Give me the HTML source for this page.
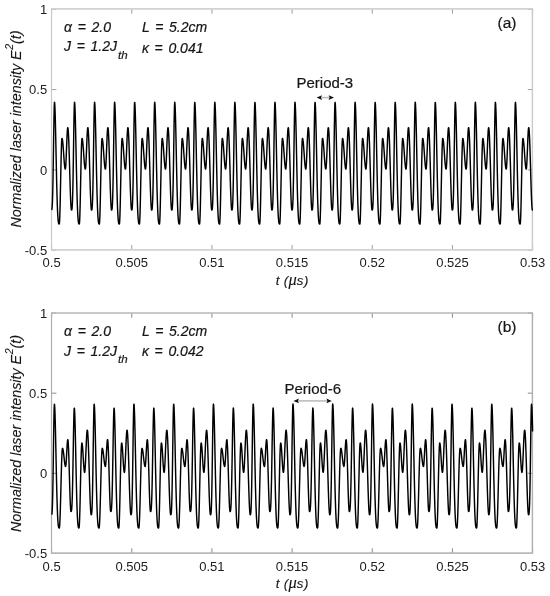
<!DOCTYPE html>
<html><head><meta charset="utf-8"><title>Normalized laser intensity</title>
<style>html,body{margin:0;padding:0;background:#fff;width:550px;height:596px;overflow:hidden}svg{display:block}</style>
</head><body>
<svg width="550" height="596" viewBox="0 0 550 596" font-family='"Liberation Sans", Arial, Helvetica, sans-serif'><style>.b{stroke:#161616;stroke-width:0.2px} .m{stroke:#1a1a1a;stroke-width:0.12px}</style><g stroke="#9c9c9c" stroke-width="1" fill="none"><line x1="51.60" y1="249.90" x2="51.60" y2="245.10"/><line x1="51.60" y1="8.90" x2="51.60" y2="13.70"/><line x1="131.77" y1="249.90" x2="131.77" y2="245.10"/><line x1="131.77" y1="8.90" x2="131.77" y2="13.70"/><line x1="211.93" y1="249.90" x2="211.93" y2="245.10"/><line x1="211.93" y1="8.90" x2="211.93" y2="13.70"/><line x1="292.10" y1="249.90" x2="292.10" y2="245.10"/><line x1="292.10" y1="8.90" x2="292.10" y2="13.70"/><line x1="372.27" y1="249.90" x2="372.27" y2="245.10"/><line x1="372.27" y1="8.90" x2="372.27" y2="13.70"/><line x1="452.43" y1="249.90" x2="452.43" y2="245.10"/><line x1="452.43" y1="8.90" x2="452.43" y2="13.70"/><line x1="532.60" y1="249.90" x2="532.60" y2="245.10"/><line x1="532.60" y1="8.90" x2="532.60" y2="13.70"/><line x1="51.60" y1="250.20" x2="56.40" y2="250.20"/><line x1="532.60" y1="250.20" x2="527.80" y2="250.20"/><line x1="51.60" y1="169.90" x2="56.40" y2="169.90"/><line x1="532.60" y1="169.90" x2="527.80" y2="169.90"/><line x1="51.60" y1="89.60" x2="56.40" y2="89.60"/><line x1="532.60" y1="89.60" x2="527.80" y2="89.60"/><line x1="51.60" y1="9.30" x2="56.40" y2="9.30"/><line x1="532.60" y1="9.30" x2="527.80" y2="9.30"/></g>
<g fill="none"><line x1="51.0" y1="8.90" x2="533.0" y2="8.90" stroke="#d2d2d2" stroke-width="1.6"/><line x1="51.0" y1="249.90" x2="533.0" y2="249.90" stroke="#d2d2d2" stroke-width="1.6"/><line x1="51.5" y1="8.90" x2="51.5" y2="249.90" stroke="#c9c9c9" stroke-width="1.2"/><line x1="532.4" y1="8.90" x2="532.4" y2="249.90" stroke="#c9c9c9" stroke-width="1.4"/></g>
<polyline points="51.60,210.02 51.73,209.87 51.85,209.49 51.98,208.76 52.10,207.59 52.23,205.87 52.35,203.51 52.48,200.45 52.60,196.63 52.73,192.00 52.85,186.57 52.98,180.36 53.10,173.42 53.23,165.87 53.35,157.83 53.48,149.48 53.60,141.04 53.73,132.75 53.85,124.90 53.98,117.77 54.10,111.67 54.23,106.89 54.35,103.70 54.48,102.33 54.60,102.58 54.73,103.76 54.85,105.79 54.98,108.59 55.10,112.11 55.23,116.25 55.35,120.94 55.48,126.08 55.60,131.58 55.73,137.36 55.85,143.33 55.98,149.41 56.10,155.52 56.23,161.58 56.35,167.54 56.48,173.33 56.60,178.90 56.73,184.21 56.85,189.22 56.98,193.90 57.10,198.23 57.23,202.20 57.35,205.79 57.48,209.01 57.60,211.86 57.73,214.35 57.85,216.49 57.98,218.30 58.10,219.81 58.23,221.03 58.35,221.99 58.48,222.72 58.60,223.25 58.73,223.62 58.85,223.84 58.98,223.96 59.10,224.01 59.23,224.02 59.35,223.74 59.48,222.62 59.60,220.65 59.73,217.87 59.85,214.36 59.98,210.16 60.10,205.38 60.23,200.11 60.35,194.45 60.48,188.52 60.60,182.44 60.73,176.34 60.85,170.34 60.98,164.56 61.10,159.12 61.23,154.13 61.35,149.69 61.48,145.89 61.60,142.81 61.73,140.52 61.85,139.05 61.98,138.44 62.10,138.49 62.23,138.77 62.35,139.27 62.48,139.96 62.60,140.86 62.73,141.93 62.85,143.18 62.98,144.57 63.10,146.09 63.23,147.72 63.35,149.44 63.48,151.22 63.60,153.03 63.73,154.85 63.85,156.66 63.98,158.43 64.10,160.13 64.22,161.74 64.35,163.24 64.47,164.60 64.60,165.82 64.72,166.86 64.85,167.71 64.97,168.37 65.10,168.82 65.22,169.06 65.35,169.06 65.47,168.60 65.60,167.64 65.72,166.21 65.85,164.34 65.97,162.08 66.10,159.48 66.22,156.61 66.35,153.53 66.47,150.33 66.60,147.08 66.72,143.86 66.85,140.75 66.97,137.83 67.10,135.17 67.22,132.84 67.35,130.89 67.47,129.37 67.60,128.31 67.72,127.75 67.85,127.70 67.97,128.12 68.10,128.99 68.22,130.32 68.35,132.07 68.47,134.24 68.60,136.81 68.72,139.73 68.85,142.98 68.97,146.52 69.10,150.31 69.22,154.31 69.35,158.48 69.47,162.76 69.60,167.11 69.72,171.48 69.85,175.82 69.97,180.08 70.10,184.22 70.22,188.18 70.35,191.92 70.47,195.41 70.60,198.60 70.72,201.45 70.85,203.93 70.97,206.02 71.10,207.70 71.22,208.93 71.35,209.72 71.47,210.04 71.60,210.04 71.72,209.94 71.85,209.64 71.97,209.04 72.10,208.02 72.22,206.48 72.35,204.34 72.47,201.51 72.60,197.94 72.72,193.57 72.85,188.39 72.97,182.43 73.10,175.72 73.22,168.35 73.35,160.44 73.47,152.17 73.60,143.73 73.72,135.37 73.85,127.35 73.97,119.96 74.10,113.50 74.22,108.26 74.35,104.54 74.47,102.56 74.60,102.39 74.72,103.29 74.85,105.05 74.97,107.62 75.10,110.91 75.22,114.86 75.35,119.38 75.47,124.39 75.60,129.79 75.72,135.49 75.85,141.41 75.97,147.46 76.10,153.57 76.22,159.65 76.35,165.65 76.47,171.50 76.60,177.15 76.72,182.54 76.85,187.65 76.97,192.44 77.10,196.88 77.22,200.97 77.35,204.68 77.47,208.02 77.60,210.99 77.72,213.59 77.85,215.84 77.97,217.76 78.10,219.36 78.22,220.67 78.35,221.71 78.47,222.51 78.60,223.10 78.72,223.52 78.85,223.78 78.97,223.93 79.10,224.00 79.22,224.02 79.35,223.92 79.47,223.07 79.60,221.37 79.72,218.85 79.85,215.56 79.97,211.57 80.10,206.97 80.22,201.84 80.35,196.29 80.47,190.44 80.60,184.40 80.72,178.29 80.85,172.24 80.97,166.38 81.10,160.82 81.22,155.67 81.35,151.04 81.47,147.03 81.60,143.72 81.72,141.16 81.85,139.43 81.97,138.54 82.10,138.45 82.22,138.66 82.35,139.09 82.47,139.72 82.60,140.55 82.72,141.57 82.85,142.76 82.97,144.11 83.10,145.59 83.22,147.19 83.35,148.88 83.47,150.64 83.60,152.45 83.72,154.27 83.85,156.09 83.97,157.87 84.10,159.60 84.22,161.24 84.35,162.77 84.47,164.18 84.60,165.45 84.72,166.54 84.85,167.46 84.97,168.18 85.10,168.70 85.22,169.01 85.35,169.10 85.47,168.80 85.60,168.00 85.72,166.72 85.85,164.99 85.97,162.84 86.10,160.35 86.22,157.55 86.35,154.53 86.47,151.36 86.60,148.12 86.72,144.88 86.85,141.73 86.97,138.74 87.10,135.99 87.22,133.55 87.35,131.47 87.47,129.80 87.60,128.60 87.72,127.88 87.85,127.66 87.97,127.93 88.10,128.66 88.22,129.84 88.35,131.46 88.47,133.51 88.60,135.95 88.72,138.76 88.85,141.90 88.97,145.36 89.10,149.07 89.22,153.01 89.35,157.13 89.47,161.38 89.60,165.71 89.72,170.08 89.85,174.44 89.97,178.73 90.10,182.91 90.22,186.93 90.35,190.75 90.47,194.32 90.60,197.61 90.72,200.57 90.85,203.18 90.97,205.40 91.10,207.21 91.22,208.59 91.35,209.52 91.47,209.99 91.60,210.05 91.72,209.99 91.85,209.77 91.97,209.27 92.10,208.40 92.22,207.04 92.35,205.10 92.47,202.50 92.60,199.17 92.72,195.05 92.85,190.14 92.97,184.42 93.10,177.94 93.22,170.77 93.35,163.02 93.47,154.84 93.60,146.44 93.72,138.02 93.85,129.86 93.97,122.23 94.10,115.44 94.22,109.79 94.35,105.55 94.47,102.99 94.60,102.30 94.72,102.91 94.85,104.40 94.97,106.71 95.10,109.78 95.22,113.53 95.35,117.88 95.47,122.74 95.60,128.02 95.72,133.63 95.85,139.49 95.97,145.51 96.10,151.61 96.22,157.71 96.35,163.74 96.47,169.65 96.60,175.36 96.72,180.84 96.85,186.05 96.97,190.94 97.10,195.50 97.22,199.70 97.35,203.53 97.47,206.99 97.60,210.08 97.72,212.80 97.85,215.16 97.97,217.18 98.10,218.88 98.22,220.28 98.35,221.40 98.47,222.28 98.60,222.94 98.72,223.40 98.85,223.71 98.97,223.90 99.10,223.99 99.22,224.02 99.35,224.01 99.47,223.44 99.60,222.00 99.72,219.74 99.85,216.69 99.97,212.92 100.10,208.50 100.22,203.53 100.35,198.11 100.47,192.34 100.60,186.34 100.72,180.24 100.85,174.16 100.97,168.23 101.10,162.56 101.22,157.27 101.35,152.46 101.47,148.24 101.60,144.70 101.72,141.89 101.85,139.89 101.97,138.73 102.10,138.43 102.22,138.57 102.35,138.93 102.47,139.49 102.60,140.26 102.72,141.22 102.85,142.36 102.97,143.66 103.10,145.10 103.22,146.67 103.35,148.33 103.47,150.07 103.60,151.87 103.72,153.69 103.85,155.51 103.97,157.30 104.10,159.05 104.22,160.72 104.35,162.30 104.47,163.75 104.60,165.06 104.72,166.21 104.85,167.19 104.97,167.97 105.10,168.56 105.22,168.93 105.35,169.09 105.47,168.95 105.60,168.31 105.72,167.18 105.85,165.59 105.97,163.57 106.10,161.18 106.22,158.47 106.35,155.52 106.47,152.39 106.60,149.16 106.72,145.91 106.85,142.72 106.97,139.68 107.10,136.84 107.22,134.29 107.35,132.09 107.47,130.29 107.60,128.93 107.72,128.05 107.85,127.68 107.97,127.80 108.10,128.38 108.22,129.42 108.35,130.90 108.47,132.81 108.60,135.12 108.72,137.82 108.85,140.86 108.97,144.22 109.10,147.86 109.22,151.73 109.35,155.79 109.47,160.01 109.60,164.32 109.72,168.68 109.85,173.05 109.97,177.36 110.10,181.59 110.22,185.66 110.35,189.55 110.47,193.21 110.60,196.59 110.72,199.66 110.85,202.39 110.97,204.73 111.10,206.68 111.22,208.19 111.35,209.27 111.47,209.89 111.60,210.05 111.72,210.02 111.85,209.86 111.97,209.47 112.10,208.72 112.22,207.53 112.35,205.79 112.47,203.41 112.60,200.31 112.72,196.46 112.85,191.80 112.97,186.34 113.10,180.09 113.22,173.13 113.35,165.55 113.47,157.50 113.60,149.14 113.72,140.70 113.85,132.43 113.97,124.60 114.10,117.51 114.22,111.46 114.35,106.73 114.47,103.61 114.60,102.31 114.72,102.61 114.85,103.83 114.97,105.88 115.10,108.72 115.22,112.26 115.35,116.43 115.47,121.14 115.60,126.29 115.72,131.81 115.85,137.60 115.97,143.57 116.10,149.65 116.22,155.76 116.35,161.82 116.47,167.78 116.60,173.56 116.72,179.12 116.85,184.42 116.97,189.41 117.10,194.08 117.22,198.39 117.35,202.35 117.47,205.93 117.60,209.13 117.72,211.97 117.85,214.44 117.97,216.57 118.10,218.37 118.22,219.86 118.35,221.07 118.47,222.02 118.60,222.75 118.72,223.27 118.85,223.63 118.97,223.85 119.10,223.97 119.22,224.01 119.35,224.02 119.47,223.71 119.60,222.55 119.72,220.55 119.85,217.75 119.97,214.20 120.10,209.98 120.22,205.18 120.35,199.89 120.47,194.22 120.60,188.28 120.72,182.20 120.85,176.10 120.97,170.11 121.10,164.34 121.22,158.91 121.35,153.94 121.47,149.53 121.60,145.75 121.72,142.71 121.85,140.44 121.97,139.01 122.10,138.43 122.22,138.50 122.35,138.79 122.47,139.29 122.60,140.00 122.72,140.90 122.85,141.98 122.97,143.23 123.10,144.63 123.22,146.15 123.35,147.79 123.47,149.51 123.60,151.29 123.72,153.10 123.85,154.93 123.97,156.73 124.10,158.50 124.22,160.20 124.35,161.80 124.47,163.30 124.60,164.66 124.72,165.86 124.85,166.89 124.97,167.74 125.10,168.39 125.22,168.83 125.35,169.06 125.47,169.05 125.60,168.57 125.72,167.59 125.85,166.15 125.97,164.26 126.10,161.98 126.22,159.37 126.35,156.49 126.47,153.41 126.60,150.20 126.72,146.95 126.85,143.73 126.97,140.63 127.10,137.72 127.22,135.07 127.35,132.75 127.47,130.82 127.60,129.31 127.72,128.28 127.85,127.74 127.97,127.71 128.10,128.14 128.22,129.04 128.35,130.38 128.47,132.15 128.60,134.34 128.72,136.92 128.85,139.85 128.97,143.11 129.10,146.67 129.22,150.47 129.35,154.48 129.47,158.65 129.60,162.93 129.72,167.28 129.85,171.65 129.97,175.99 130.10,180.25 130.22,184.38 130.35,188.33 130.47,192.07 130.60,195.54 130.72,198.72 130.85,201.56 130.97,204.03 131.10,206.10 131.22,207.75 131.35,208.97 131.47,209.74 131.60,210.04 131.72,210.04 131.85,209.93 131.97,209.63 132.10,209.01 132.22,207.97 132.35,206.41 132.47,204.24 132.60,201.39 132.72,197.78 132.85,193.38 132.97,188.17 133.10,182.17 133.22,175.43 133.35,168.04 133.47,160.12 133.60,151.83 133.72,143.39 133.85,135.04 133.97,127.04 134.10,119.68 134.22,113.26 134.35,108.08 134.47,104.42 134.60,102.52 134.72,102.41 134.85,103.34 134.97,105.14 135.10,107.73 135.22,111.06 135.35,115.03 135.47,119.58 135.60,124.60 135.72,130.01 135.85,135.72 135.97,141.65 136.10,147.70 136.22,153.81 136.35,159.89 136.47,165.89 136.60,171.73 136.72,177.37 136.85,182.75 136.97,187.85 137.10,192.62 137.22,197.05 137.35,201.12 137.47,204.82 137.60,208.15 137.72,211.10 137.85,213.69 137.97,215.93 138.10,217.83 138.22,219.42 138.35,220.71 138.47,221.75 138.60,222.54 138.72,223.12 138.85,223.53 138.97,223.79 139.10,223.94 139.22,224.00 139.35,224.02 139.47,223.90 139.60,223.02 139.72,221.28 139.85,218.73 139.97,215.41 140.10,211.40 140.22,206.77 140.35,201.63 140.47,196.06 140.60,190.20 140.72,184.15 140.85,178.05 140.97,172.01 141.10,166.15 141.22,160.60 141.35,155.48 141.47,150.87 141.60,146.89 141.72,143.60 141.85,141.08 141.97,139.37 142.10,138.52 142.22,138.45 142.35,138.67 142.47,139.11 142.60,139.75 142.72,140.59 142.85,141.61 142.97,142.81 143.10,144.16 143.22,145.65 143.35,147.26 143.47,148.95 143.60,150.71 143.72,152.52 143.85,154.34 143.97,156.16 144.10,157.94 144.22,159.66 144.35,161.30 144.47,162.83 144.60,164.24 144.72,165.49 144.85,166.58 144.97,167.49 145.10,168.21 145.22,168.71 145.35,169.01 145.47,169.09 145.60,168.78 145.72,167.96 145.85,166.66 145.97,164.91 146.10,162.75 146.22,160.24 146.35,157.44 146.47,154.41 146.60,151.23 146.72,147.99 146.85,144.75 146.97,141.61 147.10,138.63 147.22,135.89 147.35,133.46 147.47,131.39 147.60,129.75 147.72,128.56 147.85,127.86 147.97,127.67 148.10,127.95 148.22,128.70 148.35,129.90 148.47,131.54 148.60,133.60 148.72,136.05 148.85,138.87 148.97,142.04 149.10,145.50 149.22,149.23 149.35,153.17 149.47,157.30 149.60,161.55 149.72,165.89 149.85,170.25 149.97,174.61 150.10,178.90 150.22,183.07 150.35,187.09 150.47,190.90 150.60,194.46 150.72,197.74 150.85,200.69 150.97,203.28 151.10,205.48 151.22,207.27 151.35,208.63 151.47,209.54 151.60,210.00 151.72,210.05 151.85,209.99 151.97,209.75 152.10,209.25 152.22,208.35 152.35,206.97 152.47,205.01 152.60,202.38 152.72,199.02 152.85,194.87 152.97,189.92 153.10,184.18 153.22,177.67 153.35,170.47 153.47,162.70 153.60,154.51 153.72,146.10 153.85,137.69 153.97,129.54 154.10,121.94 154.22,115.19 154.35,109.59 154.47,105.41 154.60,102.92 154.72,102.31 154.85,102.95 154.97,104.47 155.10,106.82 155.22,109.92 155.35,113.70 155.47,118.07 155.60,122.94 155.72,128.24 155.85,133.86 155.97,139.73 156.10,145.76 156.22,151.85 156.35,157.95 156.47,163.98 156.60,169.88 156.72,175.59 156.85,181.06 156.97,186.25 157.10,191.13 157.22,195.67 157.35,199.86 157.47,203.68 157.60,207.12 157.72,210.19 157.85,212.90 157.97,215.25 158.10,217.26 158.22,218.94 158.35,220.33 158.47,221.44 158.60,222.31 158.72,222.96 158.85,223.42 158.97,223.72 159.10,223.90 159.22,223.99 159.35,224.02 159.47,224.00 159.60,223.40 159.72,221.93 159.85,219.63 159.97,216.55 160.10,212.75 160.22,208.32 160.35,203.32 160.47,197.88 160.60,192.10 160.72,186.10 160.85,180.00 160.97,173.92 161.10,168.00 161.22,162.34 161.35,157.06 161.47,152.28 161.60,148.09 161.72,144.57 161.85,141.80 161.97,139.83 162.10,138.70 162.22,138.43 162.35,138.58 162.47,138.95 162.60,139.52 162.72,140.30 162.85,141.27 162.97,142.41 163.10,143.72 163.22,145.16 163.35,146.73 163.47,148.40 163.60,150.14 163.72,151.94 163.85,153.76 163.97,155.58 164.10,157.38 164.22,159.12 164.35,160.79 164.47,162.36 164.60,163.80 164.72,165.11 164.85,166.25 164.97,167.22 165.10,168.00 165.22,168.57 165.35,168.94 165.47,169.09 165.60,168.93 165.72,168.27 165.85,167.13 165.97,165.51 166.10,163.48 166.22,161.08 166.35,158.36 166.47,155.40 166.60,152.26 166.72,149.03 166.85,145.78 166.97,142.60 167.10,139.56 167.22,136.73 167.35,134.20 167.47,132.01 167.60,130.22 167.72,128.89 167.85,128.03 167.97,127.67 168.10,127.81 168.22,128.41 168.35,129.47 168.47,130.97 168.60,132.89 168.72,135.22 168.85,137.93 168.97,140.99 169.10,144.36 169.22,148.01 169.35,151.89 169.47,155.96 169.60,160.18 169.72,164.49 169.85,168.86 169.97,173.22 170.10,177.53 170.22,181.75 170.35,185.82 170.47,189.70 170.60,193.35 170.72,196.72 170.85,199.78 170.97,202.49 171.10,204.82 171.22,206.74 171.35,208.24 171.47,209.30 171.60,209.90 171.72,210.05 171.85,210.02 171.97,209.85 172.10,209.45 172.22,208.69 172.35,207.47 172.47,205.70 172.60,203.30 172.72,200.18 172.85,196.29 172.97,191.60 173.10,186.10 173.22,179.83 173.35,172.84 173.47,165.24 173.60,157.17 173.72,148.80 173.85,140.36 173.97,132.10 174.10,124.30 174.22,117.24 174.35,111.24 174.47,106.58 174.60,103.52 174.72,102.30 174.85,102.65 174.97,103.89 175.10,105.98 175.22,108.85 175.35,112.42 175.47,116.61 175.60,121.33 175.72,126.51 175.85,132.03 175.97,137.83 176.10,143.82 176.22,149.90 176.35,156.01 176.47,162.07 176.60,168.01 176.72,173.79 176.85,179.34 176.97,184.62 177.10,189.60 177.22,194.26 177.35,198.56 177.47,202.50 177.60,206.06 177.72,209.25 177.85,212.07 177.97,214.53 178.10,216.65 178.22,218.44 178.35,219.92 178.47,221.11 178.60,222.06 178.72,222.77 178.85,223.29 178.97,223.64 179.10,223.86 179.22,223.97 179.35,224.01 179.47,224.02 179.60,223.68 179.72,222.49 179.85,220.45 179.97,217.62 180.10,214.04 180.22,209.80 180.35,204.98 180.47,199.67 180.60,193.98 180.72,188.04 180.85,181.96 180.97,175.86 181.10,169.87 181.22,164.11 181.35,158.70 181.47,153.75 181.60,149.36 181.72,145.62 181.85,142.60 181.97,140.37 182.10,138.97 182.22,138.43 182.35,138.51 182.47,138.80 182.60,139.31 182.72,140.03 182.85,140.94 182.97,142.03 183.10,143.28 183.22,144.69 183.35,146.22 183.47,147.86 183.60,149.58 183.72,151.36 183.85,153.18 183.97,155.00 184.10,156.81 184.22,158.57 184.35,160.26 184.47,161.87 184.60,163.35 184.72,164.71 184.85,165.91 184.97,166.93 185.10,167.77 185.22,168.41 185.35,168.85 185.47,169.07 185.60,169.04 185.72,168.54 185.85,167.54 185.97,166.08 186.10,164.18 186.22,161.88 186.35,159.26 186.47,156.37 186.60,153.28 186.72,150.07 186.85,146.82 186.97,143.61 187.10,140.51 187.22,137.61 187.35,134.97 187.47,132.67 187.60,130.75 187.72,129.26 187.85,128.25 187.97,127.73 188.10,127.72 188.22,128.17 188.35,129.08 188.47,130.44 188.60,132.23 188.72,134.44 188.85,137.03 188.97,139.98 189.10,143.25 189.22,146.81 189.35,150.62 189.47,154.64 189.60,158.81 189.72,163.10 189.85,167.46 189.97,171.83 190.10,176.16 190.22,180.42 190.35,184.54 190.47,188.49 190.60,192.21 190.72,195.68 190.85,198.84 190.97,201.66 191.10,204.12 191.22,206.17 191.35,207.81 191.47,209.01 191.60,209.76 191.72,210.05 191.85,210.04 191.97,209.93 192.10,209.61 192.22,208.97 192.35,207.92 192.47,206.34 192.60,204.14 192.72,201.26 192.85,197.62 192.97,193.18 193.10,187.95 193.22,181.92 193.35,175.15 193.47,167.73 193.60,159.79 193.72,151.50 193.85,143.06 193.97,134.71 194.10,126.73 194.22,119.40 194.35,113.03 194.47,107.91 194.60,104.31 194.72,102.48 194.85,102.43 194.97,103.40 195.10,105.23 195.22,107.85 195.35,111.21 195.47,115.21 195.60,119.77 195.72,124.81 195.85,130.23 195.97,135.95 196.10,141.89 196.22,147.95 196.35,154.05 196.47,160.14 196.60,166.12 196.72,171.96 196.85,177.59 196.97,182.96 197.10,188.04 197.22,192.81 197.35,197.22 197.47,201.28 197.60,204.96 197.72,208.27 197.85,211.21 197.97,213.78 198.10,216.01 198.22,217.90 198.35,219.48 198.47,220.76 198.60,221.78 198.72,222.57 198.85,223.14 198.97,223.54 199.10,223.80 199.22,223.94 199.35,224.01 199.47,224.02 199.60,223.89 199.72,222.96 199.85,221.19 199.97,218.61 200.10,215.26 200.22,211.23 200.35,206.58 200.47,201.41 200.60,195.84 200.72,189.96 200.85,183.91 200.97,177.80 201.10,171.77 201.22,165.92 201.35,160.39 201.47,155.28 201.60,150.70 201.72,146.74 201.85,143.48 201.97,140.99 202.10,139.32 202.22,138.51 202.35,138.46 202.47,138.69 202.60,139.13 202.72,139.78 202.85,140.63 202.97,141.66 203.10,142.86 203.22,144.22 203.35,145.71 203.47,147.32 203.60,149.02 203.72,150.79 203.85,152.59 203.97,154.42 204.10,156.23 204.22,158.01 204.35,159.73 204.47,161.37 204.60,162.89 204.72,164.29 204.85,165.54 204.97,166.62 205.10,167.52 205.22,168.23 205.35,168.73 205.47,169.02 205.60,169.09 205.72,168.75 205.85,167.92 205.97,166.60 206.10,164.83 206.22,162.66 206.35,160.13 206.47,157.32 206.60,154.28 206.72,151.11 206.85,147.86 206.97,144.63 207.10,141.48 207.22,138.51 207.35,135.78 207.47,133.37 207.60,131.32 207.72,129.69 207.85,128.52 207.97,127.84 208.10,127.67 208.22,127.97 208.35,128.74 208.47,129.96 208.60,131.61 208.72,133.69 208.85,136.16 208.97,139.00 209.10,142.17 209.22,145.64 209.35,149.38 209.47,153.33 209.60,157.46 209.72,161.72 209.85,166.06 209.97,170.43 210.10,174.78 210.22,179.07 210.35,183.24 210.47,187.25 210.60,191.05 210.72,194.60 210.85,197.86 210.97,200.80 211.10,203.37 211.22,205.56 211.35,207.33 211.47,208.68 211.60,209.57 211.72,210.01 211.85,210.05 211.97,209.98 212.10,209.74 212.22,209.22 212.35,208.31 212.47,206.90 212.60,204.92 212.72,202.26 212.85,198.87 212.97,194.69 213.10,189.71 213.22,183.93 213.35,177.39 213.47,170.17 213.60,162.38 213.72,154.18 213.85,145.76 213.97,137.35 214.10,129.23 214.22,121.66 214.35,114.95 214.47,109.39 214.60,105.28 214.72,102.86 214.85,102.31 214.97,102.99 215.10,104.55 215.22,106.93 215.35,110.06 215.47,113.86 215.60,118.25 215.72,123.15 215.85,128.46 215.97,134.10 216.10,139.97 216.22,146.00 216.35,152.10 216.47,158.20 216.60,164.22 216.72,170.11 216.85,175.81 216.97,181.27 217.10,186.45 217.22,191.32 217.35,195.85 217.47,200.02 217.60,203.82 217.72,207.25 217.85,210.31 217.97,213.00 218.10,215.33 218.22,217.33 218.35,219.00 218.47,220.38 218.60,221.48 218.72,222.34 218.85,222.98 218.97,223.43 219.10,223.73 219.22,223.91 219.35,223.99 219.47,224.02 219.60,224.00 219.72,223.35 219.85,221.85 219.97,219.52 220.10,216.41 220.22,212.59 220.35,208.13 220.47,203.11 220.60,197.66 220.72,191.87 220.85,185.86 220.97,179.76 221.10,173.68 221.22,167.76 221.35,162.12 221.47,156.86 221.60,152.10 221.72,147.93 221.85,144.45 221.97,141.70 222.10,139.77 222.22,138.67 222.35,138.43 222.47,138.59 222.60,138.96 222.72,139.55 222.85,140.33 222.97,141.31 223.10,142.46 223.22,143.77 223.35,145.22 223.47,146.80 223.60,148.47 223.72,150.21 223.85,152.01 223.97,153.83 224.10,155.65 224.22,157.45 224.35,159.19 224.47,160.85 224.60,162.42 224.72,163.86 224.85,165.16 224.97,166.30 225.10,167.26 225.22,168.03 225.35,168.59 225.47,168.95 225.60,169.09 225.72,168.92 225.85,168.24 225.97,167.07 226.10,165.44 226.22,163.39 226.35,160.97 226.47,158.25 226.60,155.27 226.72,152.13 226.85,148.90 226.97,145.65 227.10,142.47 227.22,139.44 227.35,136.63 227.47,134.10 227.60,131.93 227.72,130.16 227.85,128.84 227.97,128.01 228.10,127.67 228.22,127.83 228.35,128.45 228.47,129.52 228.60,131.04 228.72,132.98 228.85,135.33 228.97,138.05 229.10,141.12 229.22,144.50 229.35,148.16 229.47,152.05 229.60,156.13 229.72,160.35 229.85,164.67 229.97,169.03 230.10,173.39 230.22,177.71 230.35,181.92 230.47,185.98 230.60,189.86 230.72,193.49 230.85,196.85 230.97,199.89 231.10,202.59 231.22,204.90 231.35,206.81 231.47,208.30 231.60,209.33 231.72,209.92 231.85,210.05 231.97,210.01 232.10,209.84 232.22,209.42 232.35,208.65 232.47,207.41 232.60,205.62 232.72,203.19 232.85,200.03 232.97,196.11 233.10,191.39 233.22,185.86 233.35,179.56 233.47,172.55 233.60,164.92 233.72,156.84 233.85,148.46 233.97,140.03 234.10,131.78 234.22,124.00 234.35,116.98 234.47,111.02 234.60,106.42 234.72,103.44 234.85,102.29 234.97,102.68 235.10,103.96 235.22,106.08 235.35,108.98 235.47,112.58 235.60,116.79 235.72,121.53 235.85,126.72 235.97,132.26 236.10,138.07 236.22,144.06 236.35,150.14 236.47,156.25 236.60,162.31 236.72,168.25 236.85,174.01 236.97,179.55 237.10,184.83 237.22,189.80 237.35,194.44 237.47,198.72 237.60,202.65 237.72,206.20 237.85,209.37 237.97,212.18 238.10,214.62 238.22,216.73 238.35,218.50 238.47,219.97 238.60,221.16 238.72,222.09 238.85,222.80 238.97,223.31 239.10,223.65 239.22,223.86 239.35,223.97 239.47,224.02 239.60,224.02 239.72,223.65 239.85,222.42 239.97,220.36 240.10,217.49 240.22,213.89 240.35,209.62 240.47,204.77 240.60,199.45 240.72,193.75 240.85,187.80 240.97,181.71 241.10,175.62 241.22,169.63 241.35,163.89 241.47,158.50 241.60,153.57 241.72,149.20 241.85,145.48 241.97,142.50 242.10,140.30 242.22,138.93 242.35,138.43 242.47,138.51 242.60,138.82 242.72,139.34 242.85,140.06 242.97,140.98 243.10,142.07 243.22,143.34 243.35,144.74 243.47,146.28 243.60,147.92 243.72,149.65 243.85,151.43 243.97,153.25 244.10,155.07 244.22,156.88 244.35,158.64 244.47,160.33 244.60,161.93 244.72,163.41 244.85,164.76 244.97,165.95 245.10,166.97 245.22,167.80 245.35,168.43 245.47,168.86 245.60,169.07 245.72,169.03 245.85,168.51 245.97,167.49 246.10,166.01 246.22,164.09 246.35,161.78 246.47,159.15 246.60,156.25 246.72,153.15 246.85,149.94 246.97,146.69 247.10,143.48 247.22,140.39 247.35,137.50 247.47,134.88 247.60,132.58 247.72,130.68 247.85,129.21 247.97,128.22 248.10,127.72 248.22,127.72 248.35,128.20 248.47,129.13 248.60,130.50 248.72,132.31 248.85,134.53 248.97,137.14 249.10,140.10 249.22,143.39 249.35,146.96 249.47,150.78 249.60,154.80 249.72,158.98 249.85,163.28 249.97,167.63 250.10,172.00 250.22,176.33 250.35,180.58 250.47,184.70 250.60,188.64 250.72,192.36 250.85,195.81 250.97,198.96 251.10,201.77 251.22,204.21 251.35,206.25 251.47,207.87 251.60,209.05 251.72,209.78 251.85,210.05 251.97,210.04 252.10,209.92 252.22,209.59 252.35,208.94 252.47,207.86 252.60,206.26 252.72,204.04 252.85,201.12 252.97,197.45 253.10,192.99 253.22,187.72 253.35,181.66 253.47,174.86 253.60,167.42 253.72,159.46 253.85,151.16 253.97,142.72 254.10,134.38 254.22,126.42 254.35,119.13 254.47,112.80 254.60,107.73 254.72,104.20 254.85,102.45 254.97,102.45 255.10,103.46 255.22,105.32 255.35,107.97 255.47,111.35 255.60,115.38 255.72,119.96 255.85,125.02 255.97,130.46 256.10,136.19 256.23,142.13 256.35,148.19 256.48,154.30 256.60,160.38 256.73,166.36 256.85,172.19 256.98,177.81 257.10,183.17 257.23,188.24 257.35,192.99 257.48,197.39 257.60,201.43 257.73,205.10 257.85,208.40 257.98,211.32 258.10,213.88 258.23,216.09 258.35,217.97 258.48,219.53 258.60,220.81 258.73,221.82 258.85,222.59 258.98,223.16 259.10,223.56 259.23,223.81 259.35,223.95 259.48,224.01 259.60,224.02 259.73,223.87 259.85,222.91 259.98,221.11 260.10,218.49 260.23,215.12 260.35,211.05 260.48,206.38 260.60,201.20 260.73,195.61 260.85,189.72 260.98,183.67 261.10,177.56 261.23,171.53 261.35,165.69 261.48,160.18 261.60,155.09 261.73,150.53 261.85,146.60 261.98,143.37 262.10,140.91 262.23,139.27 262.35,138.49 262.48,138.46 262.60,138.70 262.73,139.15 262.85,139.81 262.98,140.66 263.10,141.70 263.23,142.91 263.35,144.28 263.48,145.78 263.60,147.39 263.73,149.09 263.85,150.86 263.98,152.67 264.10,154.49 264.23,156.30 264.35,158.08 264.48,159.80 264.60,161.43 264.73,162.95 264.85,164.34 264.98,165.59 265.10,166.66 265.23,167.56 265.35,168.25 265.48,168.75 265.60,169.03 265.73,169.09 265.85,168.73 265.98,167.87 266.10,166.53 266.23,164.75 266.35,162.56 266.48,160.02 266.60,157.20 266.73,154.16 266.85,150.98 266.98,147.73 267.10,144.50 267.23,141.36 267.35,138.40 267.48,135.68 267.60,133.28 267.73,131.24 267.85,129.63 267.98,128.48 268.10,127.83 268.23,127.67 268.35,128.00 268.48,128.78 268.60,130.02 268.73,131.69 268.85,133.78 268.98,136.26 269.10,139.12 269.23,142.30 269.35,145.79 269.48,149.53 269.60,153.50 269.73,157.63 269.85,161.89 269.98,166.23 270.10,170.60 270.23,174.95 270.35,179.24 270.48,183.40 270.60,187.40 270.73,191.19 270.85,194.73 270.98,197.98 271.10,200.91 271.23,203.47 271.35,205.64 271.48,207.40 271.60,208.72 271.73,209.60 271.85,210.01 271.98,210.05 272.10,209.97 272.23,209.73 272.35,209.19 272.48,208.26 272.60,206.84 272.73,204.82 272.85,202.14 272.98,198.71 273.10,194.51 273.23,189.49 273.35,183.68 273.48,177.11 273.60,169.87 273.73,162.06 273.85,153.84 273.98,145.42 274.10,137.02 274.23,128.91 274.35,121.37 274.48,114.70 274.60,109.20 274.73,105.15 274.85,102.80 274.98,102.32 275.10,103.04 275.23,104.63 275.35,107.04 275.48,110.20 275.60,114.03 275.73,118.44 275.85,123.35 275.98,128.68 276.10,134.33 276.23,140.21 276.35,146.24 276.48,152.34 276.60,158.44 276.73,164.46 276.85,170.34 276.98,176.03 277.10,181.48 277.23,186.65 277.35,191.51 277.48,196.02 277.60,200.18 277.73,203.97 277.85,207.38 277.98,210.42 278.10,213.10 278.23,215.42 278.35,217.40 278.48,219.06 278.60,220.43 278.73,221.52 278.85,222.37 278.98,223.00 279.10,223.45 279.23,223.74 279.35,223.91 279.48,223.99 279.60,224.02 279.73,223.99 279.85,223.31 279.98,221.77 280.10,219.41 280.23,216.27 280.35,212.42 280.48,207.93 280.60,202.90 280.73,197.43 280.85,191.63 280.98,185.62 281.10,179.51 281.23,173.44 281.35,167.53 281.48,161.90 281.60,156.66 281.73,151.92 281.85,147.78 281.98,144.32 282.10,141.61 282.23,139.71 282.35,138.65 282.48,138.43 282.60,138.60 282.73,138.98 282.85,139.58 282.98,140.37 283.10,141.35 283.23,142.51 283.35,143.83 283.48,145.28 283.60,146.86 283.73,148.54 283.85,150.29 283.98,152.08 284.10,153.91 284.23,155.73 284.35,157.52 284.48,159.26 284.60,160.92 284.73,162.48 284.85,163.91 284.98,165.21 285.10,166.34 285.23,167.29 285.35,168.05 285.48,168.61 285.60,168.96 285.73,169.10 285.85,168.90 285.98,168.20 286.10,167.01 286.23,165.37 286.35,163.30 286.48,160.87 286.60,158.13 286.73,155.15 286.85,152.01 286.98,148.77 287.10,145.52 287.23,142.35 287.35,139.32 287.48,136.52 287.60,134.01 287.73,131.85 287.85,130.10 287.98,128.80 288.10,127.98 288.23,127.67 288.35,127.84 288.48,128.48 288.60,129.57 288.73,131.11 288.85,133.07 288.98,135.43 289.10,138.17 289.23,141.25 289.35,144.64 289.48,148.31 289.60,152.21 289.73,156.29 289.85,160.52 289.98,164.84 290.10,169.21 290.23,173.57 290.35,177.88 290.48,182.08 290.60,186.14 290.73,190.01 290.85,193.63 290.98,196.98 291.10,200.01 291.23,202.69 291.35,204.99 291.48,206.88 291.60,208.35 291.73,209.37 291.85,209.93 291.98,210.05 292.10,210.01 292.23,209.83 292.35,209.40 292.48,208.61 292.60,207.35 292.73,205.54 292.85,203.07 292.98,199.89 293.10,195.94 293.23,191.19 293.35,185.63 293.48,179.29 293.60,172.25 293.73,164.61 293.85,156.51 293.98,148.13 294.10,139.69 294.23,131.46 294.35,123.70 294.48,116.72 294.60,110.81 294.73,106.27 294.85,103.35 294.98,102.29 295.10,102.71 295.23,104.03 295.35,106.19 295.48,109.11 295.60,112.73 295.73,116.97 295.85,121.73 295.98,126.94 296.10,132.49 296.23,138.31 296.35,144.30 296.48,150.39 296.60,156.49 296.73,162.55 296.85,168.48 296.98,174.24 297.10,179.77 297.23,185.03 297.35,189.99 297.48,194.61 297.60,198.89 297.73,202.80 297.85,206.33 297.98,209.49 298.10,212.28 298.23,214.72 298.35,216.80 298.48,218.57 298.60,220.02 298.73,221.20 298.85,222.12 298.98,222.82 299.10,223.32 299.23,223.66 299.35,223.87 299.48,223.98 299.60,224.02 299.73,224.02 299.85,223.62 299.98,222.36 300.10,220.26 300.23,217.36 300.35,213.73 300.48,209.43 300.60,204.57 300.73,199.22 300.85,193.51 300.98,187.56 301.10,181.47 301.23,175.37 301.35,169.40 301.48,163.67 301.60,158.29 301.73,153.38 301.85,149.04 301.98,145.35 302.10,142.39 302.23,140.23 302.35,138.89 302.48,138.42 302.60,138.52 302.73,138.84 302.85,139.36 302.98,140.09 303.10,141.02 303.23,142.12 303.35,143.39 303.48,144.80 303.60,146.35 303.73,147.99 303.85,149.72 303.98,151.50 304.10,153.32 304.23,155.14 304.35,156.95 304.48,158.71 304.60,160.40 304.73,161.99 304.85,163.47 304.98,164.81 305.10,165.99 305.23,167.01 305.35,167.83 305.48,168.45 305.60,168.87 305.73,169.08 305.85,169.02 305.98,168.48 306.10,167.44 306.23,165.94 306.35,164.01 306.48,161.69 306.60,159.04 306.73,156.13 306.85,153.03 306.98,149.81 307.10,146.56 307.23,143.35 307.35,140.27 307.48,137.39 307.60,134.78 307.73,132.50 307.85,130.61 307.98,129.17 308.10,128.19 308.23,127.71 308.35,127.73 308.48,128.23 308.60,129.17 308.73,130.57 308.85,132.39 308.98,134.63 309.10,137.25 309.23,140.23 309.35,143.53 309.48,147.11 309.60,150.94 309.73,154.97 309.85,159.15 309.98,163.45 310.10,167.81 310.23,172.18 310.35,176.51 310.48,180.75 310.60,184.86 310.73,188.79 310.85,192.50 310.98,195.94 311.10,199.08 311.23,201.87 311.35,204.30 311.48,206.32 311.60,207.92 311.73,209.09 311.85,209.80 311.98,210.05 312.10,210.03 312.23,209.91 312.35,209.57 312.48,208.91 312.60,207.81 312.73,206.18 312.85,203.94 312.98,200.99 313.10,197.29 313.23,192.79 313.35,187.49 313.48,181.40 313.60,174.58 313.73,167.11 313.85,159.14 313.98,150.82 314.10,142.38 314.23,134.05 314.35,126.11 314.48,118.85 314.60,112.57 314.73,107.56 314.85,104.10 314.98,102.42 315.10,102.48 315.23,103.51 315.35,105.41 315.48,108.10 315.60,111.50 315.73,115.55 315.85,120.16 315.98,125.23 316.10,130.68 316.23,136.42 316.35,142.37 316.48,148.43 316.60,154.54 316.73,160.62 316.85,166.60 316.98,172.42 317.10,178.03 317.23,183.38 317.35,188.44 317.48,193.17 317.60,197.56 317.73,201.59 317.85,205.24 317.98,208.52 318.10,211.43 318.23,213.98 318.35,216.17 318.48,218.04 318.60,219.59 318.73,220.85 318.85,221.85 318.98,222.62 319.10,223.18 319.23,223.57 319.35,223.81 319.48,223.95 319.60,224.01 319.73,224.02 319.85,223.84 319.98,222.85 320.10,221.02 320.23,218.37 320.35,214.97 320.48,210.88 320.60,206.18 320.73,200.98 320.85,195.37 320.98,189.48 321.10,183.42 321.23,177.32 321.35,171.29 321.48,165.47 321.60,159.96 321.73,154.89 321.85,150.36 321.98,146.45 322.10,143.26 322.23,140.83 322.35,139.23 322.48,138.48 322.60,138.47 322.73,138.71 322.85,139.17 322.98,139.84 323.10,140.70 323.23,141.75 323.35,142.97 323.48,144.34 323.60,145.84 323.73,147.45 323.85,149.16 323.98,150.93 324.10,152.74 324.23,154.56 324.35,156.38 324.48,158.15 324.60,159.86 324.73,161.49 324.85,163.01 324.98,164.40 325.10,165.63 325.23,166.70 325.35,167.59 325.48,168.28 325.60,168.76 325.73,169.03 325.85,169.08 325.98,168.71 326.10,167.83 326.23,166.47 326.35,164.67 326.48,162.47 326.60,159.92 326.73,157.08 326.85,154.03 326.98,150.85 327.10,147.60 327.23,144.37 327.35,141.24 327.48,138.29 327.60,135.58 327.73,133.19 327.85,131.17 327.98,129.58 328.10,128.45 328.23,127.81 328.35,127.68 328.48,128.02 328.60,128.82 328.73,130.07 328.85,131.76 328.98,133.87 329.10,136.37 329.23,139.24 329.35,142.44 329.48,145.93 329.60,149.69 329.73,153.66 329.85,157.80 329.98,162.07 330.10,166.41 330.23,170.78 330.35,175.13 330.48,179.41 330.60,183.56 330.73,187.56 330.85,191.34 330.98,194.87 331.10,198.11 331.23,201.02 331.35,203.56 331.48,205.72 331.60,207.46 331.73,208.76 331.85,209.62 331.98,210.02 332.10,210.05 332.23,209.97 332.35,209.71 332.48,209.16 332.60,208.21 332.73,206.77 332.85,204.73 332.98,202.01 333.10,198.56 333.23,194.32 333.35,189.28 333.48,183.43 333.60,176.84 333.73,169.56 333.85,161.74 333.98,153.51 334.10,145.08 334.23,136.69 334.35,128.60 334.48,121.08 334.60,114.45 334.73,109.01 334.85,105.02 334.98,102.75 335.10,102.34 335.23,103.09 335.35,104.71 335.48,107.15 335.60,110.34 335.73,114.19 335.85,118.63 335.98,123.56 336.10,128.90 336.23,134.56 336.35,140.45 336.48,146.48 336.60,152.59 336.73,158.68 336.85,164.70 336.98,170.58 337.10,176.26 337.23,181.70 337.35,186.85 337.48,191.69 337.60,196.19 337.73,200.34 337.85,204.11 337.98,207.51 338.10,210.54 338.23,213.20 338.35,215.51 338.48,217.47 338.60,219.12 338.73,220.48 338.85,221.56 338.98,222.40 339.10,223.02 339.23,223.46 339.35,223.75 339.48,223.92 339.60,224.00 339.73,224.02 339.85,223.98 339.98,223.26 340.10,221.69 340.23,219.30 340.35,216.13 340.48,212.25 340.60,207.74 340.73,202.69 340.85,197.21 340.98,191.39 341.10,185.37 341.23,179.27 341.35,173.20 341.48,167.30 341.60,161.68 341.73,156.46 341.85,151.75 341.98,147.63 342.10,144.20 342.23,141.52 342.35,139.65 342.48,138.62 342.60,138.43 342.73,138.61 342.85,139.00 342.98,139.60 343.10,140.40 343.23,141.39 343.35,142.56 343.48,143.88 343.60,145.35 343.73,146.93 343.85,148.61 343.98,150.36 344.10,152.16 344.23,153.98 344.35,155.80 344.48,157.59 344.60,159.32 344.73,160.98 344.85,162.54 344.98,163.97 345.10,165.25 345.23,166.38 345.35,167.32 345.48,168.08 345.60,168.63 345.73,168.97 345.85,169.10 345.98,168.88 346.10,168.16 346.23,166.96 346.35,165.29 346.48,163.21 346.60,160.77 346.73,158.02 346.85,155.03 346.98,151.88 347.10,148.64 347.23,145.40 347.35,142.23 347.48,139.21 347.60,136.41 347.73,133.92 347.85,131.77 347.98,130.04 348.10,128.76 348.23,127.96 348.35,127.66 348.48,127.86 348.60,128.51 348.73,129.62 348.85,131.18 348.98,133.15 349.10,135.53 349.23,138.28 349.35,141.38 349.48,144.78 349.60,148.46 349.73,152.37 349.85,156.46 349.98,160.69 350.10,165.01 350.23,169.38 350.35,173.74 350.48,178.05 350.60,182.25 350.73,186.30 350.85,190.16 350.98,193.77 351.10,197.11 351.23,200.12 351.35,202.79 351.48,205.07 351.60,206.95 351.73,208.39 351.85,209.40 351.98,209.94 352.10,210.05 352.23,210.01 352.35,209.82 352.48,209.37 352.60,208.57 352.73,207.29 352.85,205.45 352.98,202.96 353.10,199.75 353.23,195.77 353.35,190.98 353.48,185.39 353.60,179.03 353.73,171.96 353.85,164.29 353.98,156.17 354.10,147.79 354.23,139.36 354.35,131.14 354.48,123.41 354.60,116.46 354.73,110.60 354.85,106.12 354.98,103.28 355.10,102.29 355.23,102.75 355.35,104.10 355.48,106.29 355.60,109.24 355.73,112.89 355.85,117.15 355.98,121.93 356.10,127.15 356.23,132.72 356.35,138.54 356.48,144.54 356.60,150.63 356.73,156.74 356.85,162.79 356.98,168.71 357.10,174.46 357.23,179.99 357.35,185.24 357.48,190.18 357.60,194.79 357.73,199.05 357.85,202.94 357.98,206.46 358.10,209.61 358.23,212.39 358.35,214.81 358.48,216.88 358.60,218.63 358.73,220.08 358.85,221.24 358.98,222.15 359.10,222.84 359.23,223.34 359.35,223.67 359.48,223.87 359.60,223.98 359.73,224.02 359.85,224.02 359.98,223.59 360.10,222.29 360.23,220.15 360.35,217.23 360.48,213.57 360.60,209.25 360.73,204.36 360.85,199.00 360.98,193.28 361.10,187.31 361.23,181.22 361.35,175.13 361.48,169.16 361.60,163.44 361.73,158.08 361.85,153.19 361.98,148.88 362.10,145.22 362.23,142.29 362.35,140.16 362.48,138.86 362.60,138.42 362.73,138.53 362.85,138.85 362.98,139.39 363.10,140.13 363.23,141.06 363.35,142.17 363.48,143.44 363.60,144.86 363.73,146.41 363.85,148.06 363.98,149.79 364.10,151.58 364.23,153.39 364.35,155.22 364.48,157.02 364.60,158.78 364.73,160.46 364.85,162.05 364.98,163.52 365.10,164.86 365.23,166.04 365.35,167.04 365.48,167.86 365.60,168.48 365.73,168.88 365.85,169.08 365.98,169.01 366.10,168.45 366.23,167.39 366.35,165.87 366.48,163.92 366.60,161.59 366.73,158.93 366.85,156.01 366.98,152.90 367.10,149.68 367.23,146.43 367.35,143.23 367.48,140.15 367.60,137.28 367.73,134.68 367.85,132.42 367.98,130.55 368.10,129.12 368.23,128.16 368.35,127.70 368.48,127.75 368.60,128.25 368.73,129.22 368.85,130.63 368.98,132.47 369.10,134.73 369.23,137.36 369.35,140.35 369.48,143.66 369.60,147.26 369.73,151.10 369.85,155.13 369.98,159.32 370.10,163.62 370.23,167.98 370.35,172.35 370.48,176.68 370.60,180.92 370.73,185.02 370.85,188.95 370.98,192.64 371.10,196.07 371.23,199.19 371.35,201.98 371.48,204.38 371.60,206.39 371.73,207.98 371.85,209.13 371.98,209.82 372.10,210.05 372.23,210.03 372.35,209.90 372.48,209.55 372.60,208.87 372.73,207.76 372.85,206.11 372.98,203.83 373.10,200.86 373.23,197.13 373.35,192.60 373.48,187.26 373.60,181.14 373.73,174.29 373.85,166.80 373.98,158.81 374.10,150.49 374.23,142.04 374.35,133.73 374.48,125.81 374.60,118.58 374.73,112.34 374.85,107.39 374.98,103.99 375.10,102.39 375.23,102.50 375.35,103.57 375.48,105.50 375.60,108.22 375.73,111.65 375.85,115.73 375.98,120.35 376.10,125.44 376.23,130.90 376.35,136.66 376.48,142.61 376.60,148.68 376.73,154.79 376.85,160.86 376.98,166.83 377.10,172.65 377.23,178.25 377.35,183.59 377.48,188.63 377.60,193.35 377.73,197.73 377.85,201.74 377.98,205.38 378.10,208.64 378.23,211.54 378.35,214.07 378.48,216.25 378.60,218.10 378.73,219.64 378.85,220.90 378.98,221.89 379.10,222.65 379.23,223.20 379.35,223.58 379.48,223.82 379.60,223.95 379.73,224.01 379.85,224.02 379.98,223.82 380.10,222.80 380.23,220.93 380.35,218.25 380.48,214.81 380.60,210.70 380.73,205.98 380.85,200.76 380.98,195.14 381.10,189.24 381.23,183.18 381.35,177.07 381.48,171.05 381.60,165.24 381.73,159.75 381.85,154.70 381.98,150.19 382.10,146.31 382.23,143.14 382.35,140.75 382.48,139.18 382.60,138.47 382.73,138.47 382.85,138.73 382.98,139.20 383.10,139.87 383.23,140.74 383.35,141.79 383.48,143.02 383.60,144.39 383.73,145.90 383.85,147.52 383.98,149.23 384.10,151.00 384.23,152.81 384.35,154.64 384.48,156.45 384.60,158.22 384.73,159.93 384.85,161.55 384.98,163.07 385.10,164.45 385.23,165.68 385.35,166.74 385.48,167.62 385.60,168.30 385.73,168.78 385.85,169.04 385.98,169.08 386.10,168.68 386.23,167.78 386.35,166.41 386.48,164.59 386.60,162.37 386.73,159.81 386.85,156.96 386.98,153.91 387.10,150.72 387.23,147.47 387.35,144.24 387.48,141.12 387.60,138.17 387.73,135.48 387.85,133.10 387.98,131.10 388.10,129.52 388.23,128.41 388.35,127.79 388.48,127.68 388.60,128.04 388.73,128.86 388.85,130.13 388.98,131.84 389.10,133.96 389.23,136.48 389.35,139.36 389.48,142.57 389.60,146.08 389.73,149.84 389.85,153.82 389.98,157.97 390.10,162.24 390.23,166.58 390.35,170.95 390.48,175.30 390.60,179.57 390.73,183.73 390.85,187.71 390.98,191.49 391.10,195.01 391.23,198.23 391.35,201.13 391.48,203.66 391.60,205.80 391.73,207.52 391.85,208.81 391.98,209.65 392.10,210.03 392.23,210.04 392.35,209.96 392.48,209.69 392.60,209.13 392.73,208.17 392.85,206.70 392.98,204.63 393.10,201.89 393.23,198.41 393.35,194.14 393.48,189.06 393.60,183.18 393.73,176.56 393.85,169.26 393.98,161.41 394.10,153.18 394.23,144.75 394.35,136.36 394.48,128.28 394.60,120.80 394.73,114.21 394.85,108.82 394.98,104.89 395.10,102.70 395.23,102.35 395.35,103.14 395.48,104.80 395.60,107.27 395.73,110.48 395.85,114.36 395.98,118.82 396.10,123.77 396.23,129.12 396.35,134.79 396.48,140.69 396.60,146.73 396.73,152.83 396.85,158.92 396.98,164.94 397.10,170.81 397.23,176.48 397.35,181.91 397.48,187.05 397.60,191.88 397.73,196.37 397.85,200.50 397.98,204.25 398.10,207.64 398.23,210.65 398.35,213.30 398.48,215.59 398.60,217.55 398.73,219.18 398.85,220.53 398.98,221.60 399.10,222.43 399.23,223.04 399.35,223.48 399.48,223.76 399.60,223.92 399.73,224.00 399.85,224.02 399.98,223.97 400.10,223.22 400.23,221.61 400.35,219.19 400.48,215.99 400.60,212.09 400.73,207.55 400.85,202.48 400.98,196.98 401.10,191.15 401.23,185.13 401.35,179.02 401.48,172.96 401.60,167.07 401.73,161.47 401.85,156.26 401.98,151.57 402.10,147.48 402.23,144.08 402.35,141.43 402.48,139.59 402.60,138.60 402.73,138.44 402.85,138.62 402.98,139.02 403.10,139.63 403.23,140.44 403.35,141.44 403.48,142.61 403.60,143.94 403.73,145.41 403.85,146.99 403.98,148.67 404.10,150.43 404.23,152.23 404.35,154.05 404.48,155.87 404.60,157.66 404.73,159.39 404.85,161.05 404.98,162.60 405.10,164.02 405.23,165.30 405.35,166.42 405.48,167.36 405.60,168.10 405.73,168.65 405.85,168.98 405.98,169.10 406.10,168.86 406.23,168.12 406.35,166.90 406.48,165.22 406.60,163.12 406.73,160.66 406.85,157.90 406.98,154.91 407.10,151.75 407.23,148.51 407.35,145.27 407.48,142.10 407.60,139.09 407.73,136.31 407.85,133.82 407.98,131.70 408.10,129.98 408.23,128.72 408.35,127.94 408.48,127.66 408.60,127.88 408.73,128.55 408.85,129.68 408.98,131.25 409.10,133.24 409.23,135.63 409.35,138.40 409.48,141.51 409.60,144.93 409.73,148.61 409.85,152.53 409.98,156.63 410.10,160.86 410.23,165.19 410.35,169.56 410.48,173.91 410.60,178.22 410.73,182.41 410.85,186.46 410.98,190.31 411.10,193.91 411.23,197.23 411.35,200.24 411.48,202.89 411.60,205.15 411.73,207.01 411.85,208.44 411.98,209.43 412.10,209.96 412.23,210.05 412.35,210.00 412.48,209.81 412.60,209.35 412.73,208.53 412.85,207.23 412.98,205.36 413.10,202.85 413.23,199.61 413.35,195.59 413.48,190.77 413.60,185.15 413.73,178.76 413.85,171.66 413.98,163.98 414.10,155.84 414.23,147.45 414.35,139.02 414.48,130.82 414.60,123.11 414.73,116.20 414.85,110.40 414.98,105.97 415.10,103.20 415.23,102.29 415.35,102.79 415.48,104.17 415.60,106.39 415.73,109.38 415.85,113.05 415.98,117.33 416.10,122.13 416.23,127.37 416.35,132.95 416.48,138.78 416.60,144.78 416.73,150.88 416.85,156.98 416.98,163.03 417.10,168.95 417.23,174.69 417.35,180.20 417.48,185.44 417.60,190.37 417.73,194.97 417.85,199.21 417.98,203.09 418.10,206.60 418.23,209.73 418.35,212.49 418.48,214.90 418.60,216.96 418.73,218.69 418.85,220.13 418.98,221.28 419.10,222.19 419.23,222.87 419.35,223.36 419.48,223.68 419.60,223.88 419.73,223.98 419.85,224.02 419.98,224.02 420.10,223.55 420.23,222.22 420.35,220.05 420.48,217.10 420.60,213.41 420.73,209.07 420.85,204.16 420.98,198.78 421.10,193.05 421.23,187.07 421.35,180.98 421.48,174.89 421.60,168.93 421.73,163.22 421.85,157.88 421.98,153.01 422.10,148.72 422.23,145.09 422.35,142.19 422.48,140.09 422.60,138.82 422.73,138.42 422.85,138.54 422.98,138.87 423.10,139.42 423.23,140.16 423.35,141.10 423.48,142.22 423.60,143.50 423.73,144.92 423.85,146.47 423.98,148.13 424.10,149.86 424.23,151.65 424.35,153.47 424.48,155.29 424.60,157.09 424.73,158.84 424.85,160.53 424.98,162.11 425.10,163.58 425.23,164.91 425.35,166.08 425.48,167.08 425.60,167.89 425.73,168.50 425.85,168.90 425.98,169.08 426.10,168.99 426.23,168.41 426.35,167.34 426.48,165.80 426.60,163.83 426.73,161.48 426.85,158.81 426.98,155.89 427.10,152.77 427.23,149.55 427.35,146.30 427.48,143.10 427.60,140.03 427.73,137.17 427.85,134.58 427.98,132.33 428.10,130.48 428.23,129.07 428.35,128.13 428.48,127.70 428.60,127.76 428.73,128.28 428.85,129.27 428.98,130.70 429.10,132.56 429.23,134.82 429.35,137.48 429.48,140.48 429.60,143.80 429.73,147.41 429.85,151.25 429.98,155.30 430.10,159.49 430.23,163.80 430.35,168.16 430.48,172.52 430.60,176.85 430.73,181.09 430.85,185.18 430.98,189.10 431.10,192.79 431.23,196.20 431.35,199.31 431.48,202.08 431.60,204.47 431.73,206.46 431.85,208.03 431.98,209.16 432.10,209.84 432.23,210.05 432.35,210.03 432.48,209.89 432.60,209.53 432.73,208.84 432.85,207.70 432.98,206.03 433.10,203.73 433.23,200.73 433.35,196.96 433.48,192.40 433.60,187.03 433.73,180.88 433.85,174.00 433.98,166.49 434.10,158.48 434.23,150.15 434.35,141.71 434.48,133.40 434.60,125.50 434.73,118.31 434.85,112.12 434.98,107.22 435.10,103.89 435.23,102.37 435.35,102.53 435.48,103.64 435.60,105.60 435.73,108.34 435.85,111.80 435.98,115.90 436.10,120.55 436.23,125.65 436.35,131.13 436.48,136.89 436.60,142.85 436.73,148.92 436.85,155.03 436.98,161.10 437.10,167.07 437.23,172.87 437.35,178.46 437.48,183.80 437.60,188.83 437.73,193.54 437.85,197.90 437.98,201.89 438.10,205.52 438.23,208.77 438.35,211.65 438.48,214.16 438.60,216.33 438.73,218.17 438.85,219.70 438.98,220.94 439.10,221.92 439.23,222.67 439.35,223.22 439.48,223.59 439.60,223.83 439.73,223.96 439.85,224.01 439.98,224.02 440.10,223.80 440.23,222.74 440.35,220.83 440.48,218.12 440.60,214.66 440.73,210.52 440.85,205.78 440.98,200.54 441.10,194.91 441.23,189.00 441.35,182.93 441.48,176.83 441.60,170.82 441.73,165.01 441.85,159.54 441.98,154.51 442.10,150.02 442.23,146.17 442.35,143.03 442.48,140.67 442.60,139.14 442.73,138.46 442.85,138.48 442.98,138.74 443.10,139.22 443.23,139.90 443.35,140.78 443.48,141.84 443.60,143.07 443.73,144.45 443.85,145.96 443.98,147.59 444.10,149.30 444.23,151.07 444.35,152.88 444.48,154.71 444.60,156.52 444.73,158.29 444.85,160.00 444.98,161.62 445.10,163.13 445.23,164.50 445.35,165.72 445.48,166.78 445.60,167.65 445.73,168.32 445.85,168.79 445.98,169.05 446.10,169.07 446.23,168.65 446.35,167.74 446.48,166.34 446.60,164.51 446.73,162.27 446.85,159.70 446.98,156.85 447.10,153.78 447.23,150.59 447.35,147.34 447.48,144.11 447.60,141.00 447.73,138.06 447.85,135.38 447.98,133.01 448.10,131.03 448.23,129.47 448.35,128.38 448.48,127.78 448.60,127.69 448.73,128.07 448.85,128.90 448.98,130.19 449.10,131.92 449.23,134.06 449.35,136.59 449.48,139.48 449.60,142.71 449.73,146.23 449.85,150.00 449.98,153.98 450.10,158.14 450.23,162.41 450.35,166.76 450.48,171.13 450.60,175.47 450.73,179.74 450.85,183.89 450.98,187.87 451.10,191.63 451.23,195.14 451.35,198.35 451.48,201.23 451.60,203.75 451.73,205.87 451.85,207.58 451.98,208.85 452.10,209.67 452.23,210.03 452.35,210.04 452.48,209.96 452.60,209.68 452.73,209.10 452.85,208.12 452.98,206.63 453.10,204.54 453.23,201.77 453.35,198.25 453.48,193.95 453.60,188.84 453.73,182.93 453.85,176.28 453.98,168.96 454.10,161.09 454.23,152.84 454.35,144.41 454.48,136.03 454.60,127.97 454.73,120.52 454.85,113.97 454.98,108.63 455.10,104.77 455.23,102.65 455.35,102.36 455.48,103.19 455.60,104.88 455.73,107.38 455.85,110.62 455.98,114.53 456.10,119.00 456.23,123.97 456.35,129.34 456.48,135.02 456.60,140.93 456.73,146.97 456.85,153.08 456.98,159.17 457.10,165.18 457.23,171.04 457.35,176.70 457.48,182.12 457.60,187.25 457.73,192.07 457.85,196.54 457.98,200.65 458.10,204.40 458.23,207.77 458.35,210.76 458.48,213.40 458.60,215.68 458.73,217.62 458.85,219.24 458.98,220.57 459.10,221.64 459.23,222.46 459.35,223.06 459.48,223.49 459.60,223.77 459.73,223.93 459.85,224.00 459.98,224.02 460.10,223.95 460.23,223.17 460.35,221.53 460.48,219.08 460.60,215.85 460.73,211.92 460.85,207.36 460.98,202.27 461.10,196.75 461.23,190.92 461.35,184.88 461.48,178.78 461.60,172.72 461.73,166.84 461.85,161.25 461.98,156.07 462.10,151.39 462.23,147.33 462.35,143.95 462.48,141.34 462.60,139.53 462.73,138.58 462.85,138.44 462.98,138.63 463.10,139.04 463.23,139.66 463.35,140.48 463.48,141.48 463.60,142.66 463.73,143.99 463.85,145.47 463.98,147.06 464.10,148.74 464.23,150.50 464.35,152.30 464.48,154.12 464.60,155.94 464.73,157.73 464.85,159.46 464.98,161.11 465.10,162.66 465.23,164.08 465.35,165.35 465.48,166.46 465.60,167.39 465.73,168.13 465.85,168.66 465.98,168.99 466.10,169.10 466.23,168.84 466.35,168.08 466.48,166.84 466.60,165.14 466.73,163.03 466.85,160.56 466.98,157.79 467.10,154.78 467.23,151.62 467.35,148.38 467.48,145.14 467.60,141.98 467.73,138.97 467.85,136.20 467.98,133.73 468.10,131.62 468.23,129.92 468.35,128.68 468.48,127.92 468.60,127.66 468.73,127.89 468.85,128.59 468.98,129.73 469.10,131.32 469.23,133.33 469.35,135.74 469.48,138.52 469.60,141.64 469.73,145.07 469.85,148.77 469.98,152.69 470.10,156.79 470.23,161.03 470.35,165.36 470.48,169.73 470.60,174.09 470.73,178.39 470.85,182.58 470.98,186.62 471.10,190.45 471.23,194.05 471.35,197.36 471.48,200.35 471.60,202.99 471.73,205.24 471.85,207.08 471.98,208.49 472.10,209.46 472.23,209.97 472.35,210.05 472.48,210.00 472.60,209.79 472.73,209.33 472.85,208.48 472.98,207.17 473.10,205.28 473.23,202.73 473.35,199.46 473.48,195.41 473.60,190.56 473.73,184.91 473.85,178.48 473.98,171.37 474.10,163.66 474.23,155.51 474.35,147.11 474.48,138.69 474.60,130.50 474.73,122.82 474.85,115.95 474.98,110.19 475.10,105.83 475.23,103.13 475.35,102.29 475.48,102.82 475.60,104.25 475.73,106.50 475.85,109.51 475.98,113.21 476.10,117.51 476.23,122.33 476.35,127.59 476.48,133.18 476.60,139.02 476.73,145.03 476.85,151.12 476.98,157.22 477.10,163.27 477.23,169.18 477.35,174.91 477.48,180.42 477.60,185.64 477.73,190.56 477.85,195.15 477.98,199.38 478.10,203.24 478.23,206.73 478.35,209.84 478.48,212.59 478.60,214.98 478.73,217.03 478.85,218.76 478.98,220.18 479.10,221.32 479.23,222.22 479.35,222.89 479.48,223.37 479.60,223.69 479.73,223.89 479.85,223.98 479.98,224.02 480.10,224.02 480.23,223.51 480.35,222.15 480.48,219.95 480.60,216.96 480.73,213.25 480.85,208.88 480.98,203.95 481.10,198.56 481.23,192.81 481.35,186.83 481.48,180.73 481.60,174.65 481.73,168.70 481.85,163.00 481.98,157.67 482.10,152.83 482.23,148.56 482.35,144.95 482.48,142.09 482.60,140.02 482.73,138.79 482.85,138.42 482.98,138.55 483.10,138.89 483.23,139.44 483.35,140.19 483.48,141.14 483.60,142.26 483.73,143.55 483.85,144.98 483.98,146.54 484.10,148.20 484.23,149.93 484.35,151.72 484.48,153.54 484.60,155.36 484.73,157.16 484.85,158.91 484.98,160.59 485.10,162.17 485.23,163.64 485.35,164.96 485.48,166.12 485.60,167.11 485.73,167.92 485.85,168.52 485.98,168.91 486.10,169.09 486.23,168.98 486.35,168.38 486.48,167.29 486.60,165.73 486.73,163.75 486.85,161.38 486.98,158.70 487.10,155.76 487.23,152.64 487.35,149.42 487.48,146.17 487.60,142.98 487.73,139.91 487.85,137.06 487.98,134.48 488.10,132.25 488.23,130.42 488.35,129.02 488.48,128.11 488.60,127.69 488.73,127.77 488.85,128.32 488.98,129.32 489.10,130.76 489.23,132.64 489.35,134.92 489.48,137.59 489.60,140.61 489.73,143.94 489.85,147.56 489.98,151.41 490.10,155.46 490.23,159.67 490.35,163.97 490.48,168.33 490.60,172.70 490.73,177.02 490.85,181.25 490.98,185.34 491.10,189.25 491.23,192.93 491.35,196.33 491.48,199.43 491.60,202.18 491.73,204.56 491.85,206.54 491.98,208.09 492.10,209.20 492.23,209.85 492.35,210.05 492.48,210.03 492.60,209.88 492.73,209.51 492.85,208.80 492.98,207.64 493.10,205.95 493.23,203.62 493.35,200.59 493.48,196.79 493.60,192.20 493.73,186.80 493.85,180.62 493.98,173.71 494.10,166.18 494.23,158.15 494.35,149.81 494.48,141.37 494.60,133.08 494.73,125.20 494.85,118.04 494.98,111.89 495.10,107.06 495.23,103.80 495.35,102.35 495.48,102.55 495.60,103.70 495.73,105.69 495.85,108.47 495.98,111.96 496.10,116.08 496.23,120.74 496.35,125.86 496.48,131.35 496.60,137.13 496.73,143.09 496.85,149.17 496.98,155.27 497.10,161.34 497.23,167.31 497.35,173.10 497.48,178.68 497.60,184.00 497.73,189.02 497.85,193.72 497.98,198.06 498.10,202.04 498.23,205.65 498.35,208.89 498.48,211.75 498.60,214.26 498.73,216.41 498.85,218.24 498.98,219.75 499.10,220.99 499.23,221.96 499.35,222.70 499.48,223.24 499.60,223.61 499.73,223.84 499.85,223.96 499.98,224.01 500.10,224.02 500.23,223.77 500.35,222.68 500.48,220.74 500.60,218.00 500.73,214.51 500.85,210.34 500.98,205.58 501.10,200.33 501.23,194.68 501.35,188.76 501.48,182.69 501.60,176.59 501.73,170.58 501.85,164.79 501.98,159.33 502.10,154.32 502.23,149.86 502.35,146.03 502.48,142.92 502.60,140.59 502.73,139.09 502.85,138.45 502.98,138.49 503.10,138.76 503.23,139.24 503.35,139.93 503.48,140.82 503.60,141.89 503.73,143.12 503.85,144.51 503.98,146.03 504.10,147.66 504.23,149.37 504.35,151.14 504.48,152.96 504.60,154.78 504.73,156.59 504.85,158.36 504.98,160.06 505.10,161.68 505.23,163.18 505.35,164.55 505.48,165.77 505.60,166.82 505.73,167.68 505.85,168.35 505.98,168.81 506.10,169.05 506.23,169.06 506.35,168.63 506.48,167.69 506.60,166.28 506.73,164.43 506.85,162.18 506.98,159.59 507.10,156.73 507.23,153.66 507.35,150.46 507.48,147.21 507.60,143.99 507.73,140.87 507.85,137.95 507.98,135.27 508.10,132.93 508.23,130.96 508.35,129.42 508.48,128.35 508.60,127.77 508.73,127.69 508.85,128.09 508.98,128.95 509.10,130.25 509.23,131.99 509.35,134.15 509.48,136.70 509.60,139.60 509.73,142.84 509.85,146.37 509.98,150.15 510.10,154.15 510.23,158.31 510.35,162.58 510.48,166.93 510.60,171.30 510.73,175.65 510.85,179.91 510.98,184.05 511.10,188.02 511.23,191.78 511.35,195.28 511.48,198.48 511.60,201.34 511.73,203.84 511.85,205.95 511.98,207.64 512.10,208.89 512.23,209.69 512.35,210.04 512.48,210.04 512.60,209.95 512.73,209.66 512.85,209.07 512.98,208.07 513.10,206.56 513.23,204.44 513.35,201.64 513.48,198.09 513.60,193.76 513.73,188.62 513.85,182.68 513.98,176.00 514.10,168.65 514.23,160.77 514.35,152.50 514.48,144.07 514.60,135.70 514.73,127.66 514.85,120.24 514.98,113.73 515.10,108.44 515.23,104.65 515.35,102.60 515.48,102.38 515.60,103.24 515.73,104.96 515.85,107.50 515.98,110.77 516.10,114.69 516.23,119.19 516.35,124.18 516.48,129.56 516.60,135.25 516.73,141.17 516.85,147.22 516.98,153.32 517.10,159.41 517.23,165.41 517.35,171.27 517.48,176.92 517.60,182.33 517.73,187.45 517.85,192.25 517.98,196.71 518.10,200.81 518.23,204.54 518.35,207.89 518.48,210.88 518.60,213.49 518.73,215.76 518.85,217.69 518.98,219.30 519.10,220.62 519.23,221.67 519.35,222.48 519.48,223.08 519.60,223.50 519.73,223.78 519.85,223.93 519.98,224.00 520.10,224.02 520.23,223.94 520.35,223.12 520.48,221.45 520.60,218.96 520.73,215.70 520.85,211.74 520.98,207.16 521.10,202.06 521.23,196.52 521.35,190.68 521.48,184.64 521.60,178.53 521.73,172.48 521.85,166.61 521.98,161.03 522.10,155.87 522.23,151.22 522.35,147.18 522.48,143.83 522.60,141.25 522.73,139.48 522.85,138.56 522.98,138.44 523.10,138.65 523.23,139.06 523.35,139.69 523.48,140.51 523.60,141.53 523.73,142.71 523.85,144.05 523.98,145.53 524.10,147.12 524.23,148.81 524.35,150.57 524.48,152.37 524.60,154.20 524.73,156.01 524.85,157.80 524.98,159.53 525.10,161.17 525.23,162.72 525.35,164.13 525.48,165.40 525.60,166.50 525.73,167.43 525.85,168.16 525.98,168.68 526.10,169.00 526.23,169.10 526.35,168.82 526.48,168.04 526.60,166.78 526.73,165.06 526.85,162.94 526.98,160.45 527.10,157.67 527.23,154.66 527.35,151.49 527.48,148.25 527.60,145.01 527.73,141.85 527.85,138.86 527.98,136.10 528.10,133.64 528.23,131.54 528.35,129.86 528.48,128.64 528.60,127.90 528.73,127.66 528.85,127.91 528.98,128.62 529.10,129.79 529.23,131.39 529.35,133.42 529.48,135.84 529.60,138.64 529.73,141.77 529.85,145.21 529.98,148.92 530.10,152.85 530.23,156.96 530.35,161.21 530.48,165.54 530.60,169.91 530.73,174.26 530.85,178.56 530.98,182.74 531.10,186.77 531.23,190.60 531.35,194.19 531.48,197.49 531.60,200.46 531.73,203.08 531.85,205.32 531.98,207.14 532.10,208.54 532.23,209.49 532.35,209.98 532.48,210.05 532.60,209.99" fill="none" stroke="#000" stroke-width="1.45" stroke-linejoin="round"/>
<g font-size="13" fill="#202020"><text x="47.2" y="254.80" text-anchor="end">-0.5</text><text x="47.2" y="174.50" text-anchor="end">0</text><text x="47.2" y="94.20" text-anchor="end">0.5</text><text x="47.2" y="13.90" text-anchor="end">1</text><text x="51.60" y="267.20" text-anchor="middle">0.5</text><text x="131.77" y="267.20" text-anchor="middle">0.505</text><text x="211.93" y="267.20" text-anchor="middle">0.51</text><text x="292.10" y="267.20" text-anchor="middle">0.515</text><text x="372.27" y="267.20" text-anchor="middle">0.52</text><text x="452.43" y="267.20" text-anchor="middle">0.525</text><text x="532.60" y="267.20" text-anchor="middle">0.53</text></g>
<text class="m" x="275.8" y="284.50" font-size="13.3" font-style="italic" fill="#161616">t<tspan dx="0.5"> (</tspan><tspan font-family="Liberation Serif" font-size="16.5" dx="0.3">μ</tspan><tspan dx="0.1">s</tspan><tspan dx="0.6">)</tspan></text>
<text class="m" transform="translate(21,129.00) rotate(-90)" text-anchor="middle" font-size="14.3" font-style="italic" fill="#161616">Normalized laser intensity E<tspan font-size="10.5" dx="0.6" dy="-7.8">2</tspan><tspan dy="7.8">(t)</tspan></text>
<g class="b" font-size="14" font-style="italic" word-spacing="1.8" fill="#161616"><text x="64" y="32.30">α = 2.0</text><text x="142.0" y="32.30">L = 5.2cm</text><text x="64" y="51.20">J = 1.2J<tspan font-size="11.5" dx="1" dy="7.6">th</tspan></text><text x="141.9" y="52.90">κ = 0.041</text></g>
<text class="b" x="497.5" y="28.30" font-size="15.5" fill="#161616">(a)</text>
<g stroke="#8c8c8c" stroke-width="1" fill="none"><line x1="51.60" y1="553.10" x2="51.60" y2="548.30"/><line x1="51.60" y1="313.00" x2="51.60" y2="317.80"/><line x1="131.77" y1="553.10" x2="131.77" y2="548.30"/><line x1="131.77" y1="313.00" x2="131.77" y2="317.80"/><line x1="211.93" y1="553.10" x2="211.93" y2="548.30"/><line x1="211.93" y1="313.00" x2="211.93" y2="317.80"/><line x1="292.10" y1="553.10" x2="292.10" y2="548.30"/><line x1="292.10" y1="313.00" x2="292.10" y2="317.80"/><line x1="372.27" y1="553.10" x2="372.27" y2="548.30"/><line x1="372.27" y1="313.00" x2="372.27" y2="317.80"/><line x1="452.43" y1="553.10" x2="452.43" y2="548.30"/><line x1="452.43" y1="313.00" x2="452.43" y2="317.80"/><line x1="532.60" y1="553.10" x2="532.60" y2="548.30"/><line x1="532.60" y1="313.00" x2="532.60" y2="317.80"/><line x1="51.60" y1="553.50" x2="56.40" y2="553.50"/><line x1="532.60" y1="553.50" x2="527.80" y2="553.50"/><line x1="51.60" y1="473.33" x2="56.40" y2="473.33"/><line x1="532.60" y1="473.33" x2="527.80" y2="473.33"/><line x1="51.60" y1="393.17" x2="56.40" y2="393.17"/><line x1="532.60" y1="393.17" x2="527.80" y2="393.17"/><line x1="51.60" y1="313.00" x2="56.40" y2="313.00"/><line x1="532.60" y1="313.00" x2="527.80" y2="313.00"/></g>
<g fill="none"><line x1="51.0" y1="313.00" x2="533.0" y2="313.00" stroke="#b9b9b9" stroke-width="1.6"/><line x1="51.0" y1="553.10" x2="533.0" y2="553.10" stroke="#b9b9b9" stroke-width="1.6"/><line x1="51.5" y1="313.00" x2="51.5" y2="553.10" stroke="#aeaeae" stroke-width="1.2"/><line x1="532.4" y1="313.00" x2="532.4" y2="553.10" stroke="#aeaeae" stroke-width="1.4"/></g>
<polyline points="51.60,514.66 51.73,514.46 51.85,513.98 51.98,513.10 52.10,511.70 52.23,509.69 52.35,506.96 52.48,503.43 52.60,499.07 52.73,493.83 52.85,487.73 52.98,480.80 53.10,473.14 53.23,464.88 53.35,456.20 53.48,447.31 53.60,438.48 53.73,430.00 53.85,422.20 53.98,415.41 54.10,409.95 54.23,406.14 54.35,404.24 54.48,404.23 54.60,405.19 54.73,406.97 54.85,409.52 54.98,412.77 55.10,416.65 55.23,421.08 55.35,425.97 55.48,431.26 55.60,436.84 55.73,442.65 55.85,448.60 55.98,454.62 56.10,460.64 56.23,466.60 56.35,472.43 56.48,478.08 56.60,483.51 56.73,488.68 56.85,493.55 56.98,498.11 57.10,502.33 57.23,506.20 57.35,509.71 57.48,512.87 57.60,515.67 57.73,518.13 57.85,520.25 57.98,522.06 58.10,523.57 58.23,524.81 58.35,525.79 58.48,526.55 58.60,527.12 58.73,527.51 58.85,527.77 58.98,527.92 59.10,527.99 59.23,528.01 59.35,527.96 59.48,527.42 59.60,526.29 59.73,524.59 59.85,522.34 59.98,519.57 60.10,516.34 60.23,512.68 60.35,508.65 60.48,504.31 60.60,499.73 60.73,494.98 60.85,490.12 60.98,485.23 61.10,480.39 61.23,475.67 61.35,471.13 61.48,466.85 61.60,462.89 61.73,459.31 61.85,456.16 61.98,453.50 62.10,451.35 62.23,449.76 62.35,448.75 62.48,448.33 62.60,448.37 62.73,448.56 62.85,448.89 62.98,449.35 63.10,449.95 63.23,450.66 63.35,451.48 63.48,452.40 63.60,453.39 63.73,454.45 63.85,455.56 63.98,456.69 64.10,457.84 64.22,458.98 64.35,460.09 64.47,461.16 64.60,462.17 64.72,463.10 64.85,463.95 64.97,464.68 65.10,465.30 65.22,465.79 65.35,466.15 65.47,466.37 65.60,466.44 65.72,466.23 65.85,465.59 65.97,464.56 66.10,463.17 66.22,461.45 66.35,459.47 66.47,457.28 66.60,454.96 66.72,452.57 66.85,450.21 66.97,447.93 67.10,445.81 67.22,443.93 67.35,442.33 67.47,441.08 67.60,440.21 67.72,439.74 67.85,439.71 67.97,440.19 68.10,441.21 68.22,442.74 68.35,444.77 68.47,447.26 68.60,450.18 68.72,453.48 68.85,457.11 68.97,461.02 69.10,465.15 69.22,469.44 69.35,473.82 69.47,478.22 69.60,482.58 69.72,486.84 69.85,490.93 69.97,494.79 70.10,498.36 70.22,501.59 70.35,504.42 70.47,506.83 70.60,508.76 70.72,510.19 70.85,511.10 70.97,511.48 71.10,511.49 71.22,511.41 71.35,511.19 71.47,510.73 71.60,509.97 71.72,508.81 71.85,507.19 71.97,505.05 72.10,502.33 72.22,498.98 72.35,494.98 72.47,490.33 72.60,485.04 72.72,479.13 72.85,472.68 72.97,465.78 73.10,458.54 73.22,451.11 73.35,443.66 73.47,436.38 73.60,429.48 73.72,423.18 73.85,417.71 73.97,413.28 74.10,410.11 74.22,408.37 74.35,408.15 74.47,408.98 74.60,410.68 74.72,413.20 74.85,416.46 74.97,420.37 75.10,424.87 75.22,429.84 75.35,435.22 75.47,440.90 75.60,446.80 75.72,452.83 75.85,458.91 75.97,464.96 76.10,470.93 76.22,476.74 76.35,482.34 76.47,487.68 76.60,492.74 76.72,497.46 76.85,501.84 76.97,505.86 77.10,509.50 77.22,512.76 77.35,515.65 77.47,518.18 77.60,520.35 77.72,522.20 77.85,523.72 77.97,524.96 78.10,525.94 78.22,526.69 78.35,527.23 78.47,527.60 78.60,527.82 78.72,527.95 78.85,528.00 78.97,528.01 79.10,527.76 79.22,526.75 79.35,524.99 79.47,522.50 79.60,519.34 79.72,515.56 79.85,511.23 79.97,506.43 80.10,501.25 80.22,495.77 80.35,490.11 80.47,484.37 80.60,478.64 80.72,473.05 80.85,467.68 80.97,462.64 81.10,458.01 81.22,453.89 81.35,450.35 81.47,447.45 81.60,445.25 81.72,443.79 81.85,443.09 81.97,443.09 82.10,443.43 82.22,444.07 82.35,445.00 82.47,446.19 82.60,447.63 82.72,449.29 82.85,451.12 82.97,453.09 83.10,455.15 83.22,457.27 83.35,459.40 83.47,461.50 83.60,463.51 83.72,465.40 83.85,467.13 83.97,468.66 84.10,469.96 84.22,471.00 84.35,471.76 84.47,472.22 84.60,472.37 84.72,472.15 84.85,471.49 84.97,470.40 85.10,468.90 85.22,467.04 85.35,464.84 85.47,462.36 85.60,459.64 85.72,456.74 85.85,453.74 85.97,450.67 86.10,447.63 86.22,444.66 86.35,441.83 86.47,439.19 86.60,436.82 86.72,434.75 86.85,433.03 86.97,431.69 87.10,430.77 87.22,430.28 87.35,430.24 87.47,430.62 87.60,431.43 87.72,432.66 87.85,434.28 87.97,436.30 88.10,438.68 88.22,441.40 88.35,444.44 88.47,447.76 88.60,451.33 88.72,455.11 88.85,459.07 88.97,463.17 89.10,467.36 89.22,471.60 89.35,475.85 89.47,480.07 89.60,484.21 89.72,488.23 89.85,492.09 89.97,495.75 90.10,499.17 90.22,502.33 90.35,505.18 90.47,507.70 90.60,509.86 90.72,511.64 90.85,513.03 90.97,514.01 91.10,514.56 91.22,514.70 91.35,514.66 91.47,514.48 91.60,514.03 91.72,513.18 91.85,511.83 91.97,509.87 92.10,507.20 92.22,503.75 92.35,499.45 92.47,494.28 92.60,488.25 92.72,481.38 92.85,473.78 92.97,465.56 93.10,456.91 93.22,448.02 93.35,439.18 93.47,430.66 93.60,422.79 93.72,415.90 93.85,410.33 93.97,406.38 94.10,404.32 94.22,404.19 94.35,405.08 94.47,406.80 94.60,409.29 94.72,412.49 94.85,416.32 94.97,420.71 95.10,425.57 95.22,430.82 95.35,436.39 95.47,442.18 95.60,448.12 95.72,454.14 95.85,460.16 95.97,466.12 96.10,471.97 96.22,477.63 96.35,483.08 96.47,488.27 96.60,493.17 96.72,497.76 96.85,502.00 96.97,505.90 97.10,509.44 97.22,512.63 97.35,515.46 97.47,517.94 97.60,520.09 97.72,521.92 97.85,523.46 97.97,524.72 98.10,525.72 98.22,526.50 98.35,527.08 98.47,527.49 98.60,527.75 98.72,527.91 98.85,527.98 98.97,528.01 99.10,527.98 99.22,527.49 99.35,526.40 99.47,524.75 99.60,522.54 99.72,519.81 99.85,516.61 99.97,512.98 100.10,508.98 100.22,504.67 100.35,500.10 100.47,495.36 100.60,490.51 100.72,485.62 100.85,480.78 100.97,476.04 101.10,471.48 101.22,467.18 101.35,463.19 101.47,459.58 101.60,456.40 101.72,453.69 101.85,451.51 101.97,449.87 102.10,448.81 102.22,448.34 102.35,448.36 102.47,448.54 102.60,448.85 102.72,449.31 102.85,449.89 102.97,450.60 103.10,451.41 103.22,452.32 103.35,453.31 103.47,454.36 103.60,455.47 103.72,456.60 103.85,457.75 103.97,458.89 104.10,460.00 104.22,461.08 104.35,462.09 104.47,463.03 104.60,463.88 104.72,464.63 104.85,465.26 104.97,465.76 105.10,466.13 105.22,466.35 105.35,466.44 105.47,466.26 105.60,465.66 105.72,464.66 105.85,463.29 105.97,461.60 106.10,459.63 106.22,457.46 106.35,455.15 106.47,452.76 106.60,450.39 106.72,448.11 106.85,445.97 106.97,444.07 107.10,442.45 107.22,441.17 107.35,440.26 107.47,439.76 107.60,439.69 107.72,440.13 107.85,441.11 107.97,442.60 108.10,444.59 108.22,447.05 108.35,449.93 108.47,453.21 108.60,456.81 108.72,460.70 108.85,464.82 108.97,469.09 109.10,473.46 109.22,477.87 109.35,482.24 109.47,486.51 109.60,490.61 109.72,494.49 109.85,498.09 109.97,501.34 110.10,504.21 110.22,506.65 110.35,508.62 110.47,510.10 110.60,511.05 110.72,511.47 110.85,511.49 110.97,511.42 111.10,511.21 111.22,510.78 111.35,510.04 111.47,508.92 111.60,507.34 111.72,505.24 111.85,502.57 111.97,499.27 112.10,495.33 112.22,490.73 112.35,485.48 112.47,479.63 112.60,473.22 112.72,466.35 112.85,459.13 112.97,451.71 113.10,444.25 113.22,436.95 113.35,430.01 113.47,423.66 113.60,418.11 113.72,413.59 113.85,410.31 113.97,408.45 114.10,408.13 114.22,408.88 114.35,410.52 114.47,412.97 114.60,416.17 114.72,420.04 114.85,424.49 114.97,429.43 115.10,434.78 115.22,440.44 115.35,446.32 115.47,452.34 115.60,458.42 115.72,464.48 115.85,470.46 115.97,476.28 116.10,481.90 116.22,487.27 116.35,492.34 116.47,497.10 116.60,501.50 116.72,505.55 116.85,509.22 116.97,512.51 117.10,515.44 117.22,517.99 117.35,520.19 117.47,522.06 117.60,523.61 117.72,524.87 117.85,525.87 117.97,526.63 118.10,527.19 118.22,527.57 118.35,527.81 118.47,527.94 118.60,528.00 118.72,528.01 118.85,527.81 118.97,526.86 119.10,525.16 119.22,522.73 119.35,519.62 119.47,515.89 119.60,511.60 119.72,506.83 119.85,501.67 119.97,496.22 120.10,490.57 120.22,484.83 120.35,479.10 120.47,473.49 120.60,468.10 120.72,463.02 120.85,458.36 120.97,454.20 121.10,450.61 121.22,447.66 121.35,445.40 121.47,443.88 121.60,443.12 121.72,443.07 121.85,443.39 121.97,444.00 122.10,444.91 122.22,446.09 122.35,447.51 122.47,449.15 122.60,450.96 122.72,452.92 122.85,454.99 122.97,457.10 123.10,459.23 123.22,461.33 123.35,463.35 123.47,465.26 123.60,467.00 123.72,468.55 123.85,469.86 123.97,470.92 124.10,471.71 124.22,472.19 124.35,472.37 124.47,472.18 124.60,471.55 124.72,470.50 124.85,469.04 124.97,467.20 125.10,465.03 125.22,462.56 125.35,459.86 125.47,456.98 125.60,453.98 125.72,450.92 125.85,447.87 125.97,444.89 126.10,442.04 126.22,439.40 126.35,437.00 126.47,434.90 126.60,433.15 126.72,431.79 126.85,430.83 126.97,430.31 127.10,430.23 127.22,430.58 127.35,431.35 127.47,432.54 127.60,434.14 127.72,436.12 127.85,438.47 127.97,441.17 128.10,444.18 128.22,447.48 128.35,451.03 128.47,454.80 128.60,458.75 128.72,462.84 128.85,467.02 128.97,471.26 129.10,475.51 129.22,479.73 129.35,483.88 129.47,487.91 129.60,491.78 129.72,495.46 129.85,498.91 129.97,502.08 130.10,504.96 130.22,507.51 130.35,509.70 130.47,511.52 130.60,512.94 130.72,513.94 130.85,514.53 130.97,514.70 131.10,514.67 131.22,514.50 131.35,514.08 131.47,513.27 131.60,511.96 131.72,510.05 131.85,507.44 131.97,504.05 132.10,499.82 132.22,494.73 132.35,488.76 132.47,481.96 132.60,474.41 132.72,466.24 132.85,457.61 132.97,448.74 133.10,439.88 133.22,431.32 133.35,423.39 133.47,416.41 133.60,410.72 133.72,406.63 133.85,404.41 133.97,404.16 134.10,404.98 134.22,406.63 134.35,409.07 134.47,412.21 134.60,415.99 134.72,420.34 134.85,425.16 134.97,430.39 135.10,435.93 135.22,441.71 135.35,447.64 135.47,453.66 135.60,459.68 135.72,465.65 135.85,471.50 135.97,477.19 136.10,482.66 136.22,487.87 136.35,492.79 136.47,497.40 136.60,501.68 136.72,505.60 136.85,509.17 136.97,512.39 137.10,515.24 137.22,517.76 137.35,519.93 137.47,521.79 137.60,523.35 137.72,524.63 137.85,525.65 137.97,526.45 138.10,527.04 138.22,527.46 138.35,527.74 138.47,527.90 138.60,527.98 138.72,528.00 138.85,527.99 138.97,527.55 139.10,526.51 139.22,524.90 139.35,522.73 139.47,520.05 139.60,516.89 139.72,513.29 139.85,509.31 139.97,505.02 140.10,500.48 140.22,495.75 140.35,490.90 140.47,486.01 140.60,481.16 140.72,476.41 140.85,471.84 140.97,467.51 141.10,463.50 141.22,459.85 141.35,456.63 141.47,453.89 141.60,451.66 141.72,449.98 141.85,448.87 141.97,448.36 142.10,448.35 142.22,448.52 142.35,448.82 142.47,449.27 142.60,449.84 142.72,450.54 142.85,451.34 142.97,452.24 143.10,453.23 143.22,454.28 143.35,455.38 143.47,456.51 143.60,457.66 143.72,458.80 143.85,459.92 143.97,460.99 144.10,462.02 144.22,462.96 144.35,463.82 144.47,464.57 144.60,465.21 144.72,465.72 144.85,466.10 144.97,466.34 145.10,466.44 145.22,466.29 145.35,465.72 145.47,464.76 145.60,463.42 145.72,461.75 145.85,459.80 145.97,457.64 146.10,455.33 146.22,452.96 146.35,450.58 146.47,448.28 146.60,446.14 146.72,444.21 146.85,442.57 146.97,441.26 147.10,440.32 147.22,439.79 147.35,439.68 147.47,440.08 147.60,441.01 147.72,442.47 147.85,444.42 147.97,446.84 148.10,449.69 148.22,452.93 148.35,456.51 148.47,460.38 148.60,464.48 148.72,468.74 148.85,473.11 148.97,477.52 149.10,481.89 149.22,486.17 149.35,490.29 149.47,494.19 149.60,497.81 149.72,501.10 149.85,504.00 149.97,506.47 150.10,508.48 150.22,510.00 150.35,510.99 150.47,511.46 150.60,511.49 150.72,511.43 150.85,511.24 150.97,510.83 151.10,510.11 151.22,509.02 151.35,507.49 151.47,505.43 151.60,502.80 151.72,499.56 151.85,495.67 151.97,491.12 152.10,485.93 152.22,480.12 152.35,473.75 152.47,466.91 152.60,459.72 152.72,452.31 152.85,444.85 152.97,437.53 153.10,430.55 153.22,424.14 153.35,418.52 153.47,413.91 153.60,410.52 153.72,408.55 153.85,408.10 153.97,408.79 154.10,410.36 154.22,412.75 154.35,415.89 154.47,419.71 154.60,424.11 154.72,429.02 154.85,434.34 154.97,439.97 155.10,445.84 155.22,451.86 155.35,457.93 155.47,464.00 155.60,469.98 155.72,475.82 155.85,481.46 155.97,486.85 156.10,491.95 156.22,496.73 156.35,501.17 156.47,505.24 156.60,508.94 156.72,512.26 156.85,515.22 156.97,517.80 157.10,520.03 157.22,521.92 157.35,523.50 157.47,524.78 157.60,525.80 157.72,526.58 157.85,527.15 157.97,527.55 158.10,527.80 158.22,527.93 158.35,527.99 158.47,528.01 158.60,527.85 158.72,526.96 158.85,525.32 158.97,522.95 159.10,519.89 159.22,516.21 159.35,511.96 159.47,507.23 159.60,502.10 159.72,496.66 159.85,491.03 159.97,485.29 160.10,479.55 160.22,473.93 160.35,468.52 160.47,463.42 160.60,458.72 160.72,454.51 160.85,450.88 160.97,447.87 161.10,445.56 161.22,443.97 161.35,443.15 161.47,443.06 161.60,443.35 161.72,443.94 161.85,444.83 161.97,445.98 162.10,447.39 162.22,449.01 162.35,450.81 162.47,452.76 162.60,454.82 162.72,456.93 162.85,459.06 162.97,461.17 163.10,463.20 163.22,465.11 163.35,466.87 163.47,468.43 163.60,469.77 163.72,470.85 163.85,471.65 163.97,472.16 164.10,472.37 164.22,472.21 164.35,471.62 164.47,470.60 164.60,469.17 164.72,467.36 164.85,465.21 164.97,462.77 165.10,460.09 165.22,457.22 165.35,454.22 165.47,451.16 165.60,448.11 165.72,445.12 165.85,442.27 165.97,439.60 166.10,437.18 166.22,435.06 166.35,433.28 166.47,431.88 166.60,430.89 166.72,430.33 166.85,430.22 166.97,430.53 167.10,431.27 167.22,432.43 167.35,434.00 167.47,435.95 167.60,438.27 167.72,440.94 167.85,443.93 167.97,447.21 168.10,450.74 168.22,454.49 168.35,458.43 168.47,462.51 168.60,466.68 168.72,470.92 168.85,475.17 168.97,479.40 169.10,483.55 169.22,487.59 169.35,491.48 169.47,495.18 169.60,498.64 169.72,501.84 169.85,504.74 169.97,507.32 170.10,509.54 170.22,511.39 170.35,512.84 170.47,513.88 170.60,514.50 170.72,514.70 170.85,514.68 170.97,514.52 171.10,514.12 171.22,513.35 171.35,512.09 171.47,510.23 171.60,507.68 171.72,504.35 171.85,500.19 171.97,495.17 172.10,489.27 172.22,482.53 172.35,475.04 172.47,466.91 172.60,458.31 172.72,449.45 172.85,440.58 172.97,431.99 173.10,423.99 173.22,416.93 173.35,411.12 173.47,406.89 173.60,404.51 173.72,404.13 173.85,404.88 173.97,406.47 174.10,408.84 174.22,411.93 174.35,415.67 174.47,419.97 174.60,424.76 174.72,429.96 174.85,435.48 174.97,441.24 175.10,447.16 175.22,453.17 175.35,459.20 175.47,465.18 175.60,471.04 175.72,476.74 175.85,482.23 175.97,487.46 176.10,492.41 176.22,497.05 176.35,501.35 176.47,505.30 176.60,508.90 176.72,512.14 176.85,515.03 176.97,517.57 177.10,519.77 177.22,521.65 177.35,523.23 177.47,524.53 177.60,525.58 177.72,526.39 177.85,527.00 177.97,527.43 178.10,527.72 178.22,527.89 178.35,527.98 178.47,528.00 178.60,528.00 178.72,527.60 178.85,526.62 178.97,525.05 179.10,522.93 179.22,520.28 179.35,517.15 179.47,513.59 179.60,509.64 179.72,505.38 179.85,500.85 179.97,496.13 180.10,491.29 180.22,486.40 180.35,481.55 180.47,476.79 180.60,472.20 180.72,467.85 180.85,463.81 180.97,460.13 181.10,456.87 181.22,454.09 181.35,451.82 181.47,450.09 181.60,448.94 181.72,448.38 181.85,448.34 181.97,448.50 182.10,448.79 182.22,449.23 182.35,449.79 182.47,450.48 182.60,451.27 182.72,452.17 182.85,453.15 182.97,454.19 183.10,455.29 183.22,456.42 183.35,457.56 183.47,458.71 183.60,459.83 183.72,460.91 183.85,461.94 183.97,462.89 184.10,463.75 184.22,464.52 184.35,465.16 184.47,465.69 184.60,466.08 184.72,466.33 184.85,466.43 184.97,466.32 185.10,465.78 185.22,464.85 185.35,463.54 185.47,461.89 185.60,459.96 185.72,457.82 185.85,455.52 185.97,453.15 186.10,450.77 186.22,448.46 186.35,446.30 186.47,444.36 186.60,442.69 186.72,441.35 186.85,440.38 186.97,439.81 187.10,439.67 187.22,440.03 187.35,440.92 187.47,442.33 187.60,444.24 187.72,446.63 187.85,449.45 187.97,452.66 188.10,456.22 188.22,460.06 188.35,464.14 188.47,468.40 188.60,472.76 188.72,477.16 188.85,481.54 188.97,485.83 189.10,489.97 189.22,493.89 189.35,497.53 189.47,500.85 189.60,503.78 189.72,506.29 189.85,508.34 189.97,509.89 190.10,510.93 190.22,511.44 190.35,511.49 190.47,511.44 190.60,511.26 190.72,510.87 190.85,510.18 190.97,509.13 191.10,507.63 191.22,505.62 191.35,503.04 191.47,499.84 191.60,496.00 191.72,491.51 191.85,486.36 191.97,480.60 192.10,474.28 192.22,467.47 192.35,460.30 192.47,452.91 192.60,445.44 192.72,438.10 192.85,431.09 192.97,424.62 193.10,418.93 193.22,414.24 193.35,410.75 193.47,408.65 193.60,408.09 193.72,408.70 193.85,410.20 193.97,412.53 194.10,415.61 194.22,419.38 194.35,423.74 194.47,428.61 194.60,433.90 194.72,439.51 194.85,445.37 194.97,451.37 195.10,457.45 195.22,463.52 195.35,469.51 195.47,475.36 195.60,481.02 195.72,486.43 195.85,491.55 195.97,496.36 196.10,500.82 196.22,504.93 196.35,508.66 196.47,512.01 196.60,514.99 196.72,517.61 196.85,519.86 196.97,521.78 197.10,523.38 197.22,524.69 197.35,525.73 197.47,526.53 197.60,527.11 197.72,527.52 197.85,527.78 197.97,527.93 198.10,527.99 198.22,528.01 198.35,527.88 198.47,527.06 198.60,525.48 198.72,523.16 198.85,520.16 198.97,516.52 199.10,512.32 199.22,507.62 199.35,502.52 199.47,497.11 199.60,491.48 199.72,485.75 199.85,480.01 199.97,474.37 200.10,468.94 200.22,463.81 200.35,459.08 200.47,454.83 200.60,451.14 200.72,448.09 200.85,445.72 200.97,444.07 201.10,443.19 201.22,443.05 201.35,443.32 201.47,443.89 201.60,444.75 201.72,445.88 201.85,447.27 201.97,448.87 202.10,450.66 202.22,452.60 202.35,454.65 202.47,456.76 202.60,458.89 202.72,461.00 202.85,463.04 202.97,464.96 203.10,466.73 203.22,468.31 203.35,469.67 203.47,470.77 203.60,471.60 203.72,472.13 203.85,472.36 203.97,472.24 204.10,471.68 204.22,470.70 204.35,469.30 204.47,467.52 204.60,465.40 204.72,462.98 204.85,460.31 204.97,457.45 205.10,454.46 205.22,451.41 205.35,448.35 205.47,445.36 205.60,442.49 205.72,439.80 205.85,437.36 205.97,435.22 206.10,433.41 206.22,431.98 206.35,430.95 206.47,430.36 206.60,430.21 206.72,430.49 206.85,431.20 206.97,432.32 207.10,433.86 207.22,435.78 207.35,438.07 207.47,440.72 207.60,443.68 207.72,446.94 207.85,450.45 207.97,454.19 208.10,458.11 208.22,462.18 208.35,466.35 208.47,470.58 208.60,474.83 208.72,479.06 208.85,483.22 208.97,487.27 209.10,491.18 209.22,494.89 209.35,498.37 209.47,501.59 209.60,504.52 209.72,507.12 209.85,509.37 209.97,511.25 210.10,512.74 210.22,513.81 210.35,514.47 210.47,514.70 210.60,514.68 210.72,514.54 210.85,514.17 210.97,513.43 211.10,512.21 211.22,510.40 211.35,507.91 211.47,504.65 211.60,500.56 211.72,495.60 211.85,489.77 211.97,483.10 212.10,475.67 212.22,467.58 212.35,459.01 212.47,450.16 212.60,441.28 212.72,432.66 212.85,424.60 212.97,417.45 213.10,411.53 213.22,407.16 213.35,404.63 213.47,404.10 213.60,404.79 213.72,406.32 213.85,408.63 213.97,411.66 214.10,415.35 214.22,419.61 214.35,424.36 214.47,429.53 214.60,435.03 214.72,440.77 214.85,446.69 214.97,452.69 215.10,458.72 215.22,464.70 215.35,470.58 215.47,476.29 215.60,481.80 215.72,487.05 215.85,492.03 215.97,496.69 216.10,501.02 216.22,505.00 216.35,508.63 216.47,511.90 216.60,514.81 216.72,517.38 216.85,519.61 216.97,521.51 217.10,523.12 217.22,524.44 217.35,525.50 217.47,526.33 217.60,526.96 217.72,527.40 217.85,527.70 217.97,527.88 218.10,527.97 218.22,528.00 218.35,528.01 218.47,527.66 218.60,526.72 218.72,525.19 218.85,523.12 218.97,520.51 219.10,517.42 219.22,513.89 219.35,509.97 219.47,505.73 219.60,501.22 219.72,496.51 219.85,491.68 219.97,486.80 220.10,481.93 220.22,477.16 220.35,472.56 220.47,468.19 220.60,464.12 220.72,460.41 220.85,457.12 220.97,454.30 221.10,451.98 221.22,450.21 221.35,449.01 221.47,448.40 221.60,448.34 221.72,448.48 221.85,448.76 221.97,449.19 222.10,449.74 222.22,450.42 222.35,451.21 222.47,452.09 222.60,453.06 222.72,454.11 222.85,455.20 222.97,456.33 223.10,457.47 223.22,458.62 223.35,459.74 223.47,460.83 223.60,461.86 223.72,462.82 223.85,463.69 223.97,464.46 224.10,465.12 224.22,465.65 224.35,466.05 224.47,466.31 224.60,466.43 224.72,466.34 224.85,465.84 224.97,464.94 225.10,463.65 225.22,462.03 225.35,460.13 225.47,458.00 225.60,455.71 225.72,453.34 225.85,450.96 225.97,448.64 226.10,446.47 226.22,444.50 226.35,442.81 226.47,441.44 226.60,440.44 226.72,439.84 226.85,439.67 226.97,439.98 227.10,440.83 227.22,442.20 227.35,444.07 227.47,446.42 227.60,449.21 227.72,452.39 227.85,455.92 227.97,459.75 228.10,463.81 228.22,468.05 228.35,472.41 228.47,476.81 228.60,481.20 228.72,485.50 228.85,489.65 228.97,493.59 229.10,497.25 229.22,500.60 229.35,503.56 229.47,506.11 229.60,508.19 229.72,509.79 229.85,510.87 229.97,511.42 230.10,511.49 230.22,511.45 230.35,511.28 230.47,510.91 230.60,510.25 230.72,509.23 230.85,507.76 230.97,505.80 231.10,503.26 231.22,500.12 231.35,496.33 231.47,491.89 231.60,486.80 231.72,481.08 231.85,474.80 231.97,468.03 232.10,460.89 232.22,453.50 232.35,446.04 232.47,438.68 232.60,431.63 232.72,425.12 232.85,419.35 232.97,414.57 233.10,410.98 233.22,408.76 233.35,408.08 233.47,408.62 233.60,410.05 233.72,412.31 233.85,415.34 233.97,419.05 234.10,423.37 234.22,428.20 234.35,433.46 234.47,439.05 234.60,444.89 234.72,450.89 234.85,456.96 234.97,463.03 235.10,469.03 235.22,474.90 235.35,480.57 235.47,486.00 235.60,491.15 235.72,495.99 235.85,500.48 235.97,504.61 236.10,508.37 236.22,511.76 236.35,514.77 236.47,517.41 236.60,519.70 236.72,521.64 236.85,523.27 236.97,524.60 237.10,525.66 237.22,526.47 237.35,527.07 237.47,527.49 237.60,527.76 237.72,527.92 237.85,527.99 237.97,528.01 238.10,527.92 238.22,527.16 238.35,525.63 238.47,523.38 238.60,520.43 238.72,516.84 238.85,512.67 238.97,508.01 239.10,502.94 239.22,497.55 239.35,491.94 239.47,486.21 239.60,480.47 239.72,474.82 239.85,469.37 239.97,464.21 240.10,459.44 240.22,455.15 240.35,451.42 240.47,448.31 240.60,445.88 240.72,444.18 240.85,443.23 240.97,443.04 241.10,443.28 241.22,443.83 241.35,444.67 241.47,445.78 241.60,447.15 241.72,448.74 241.85,450.51 241.97,452.44 242.10,454.48 242.22,456.59 242.35,458.72 242.47,460.83 242.60,462.88 242.72,464.81 242.85,466.60 242.97,468.19 243.10,469.57 243.22,470.69 243.35,471.54 243.47,472.10 243.60,472.36 243.72,472.27 243.85,471.75 243.97,470.79 244.10,469.42 244.22,467.67 244.35,465.58 244.47,463.18 244.60,460.53 244.72,457.69 244.85,454.71 244.97,451.66 245.10,448.60 245.22,445.59 245.35,442.71 245.47,440.01 245.60,437.55 245.72,435.38 245.85,433.54 245.97,432.08 246.10,431.02 246.22,430.39 246.35,430.21 246.47,430.45 246.60,431.13 246.72,432.22 246.85,433.72 246.97,435.61 247.10,437.88 247.22,440.49 247.35,443.43 247.47,446.67 247.60,450.16 247.72,453.88 247.85,457.79 247.97,461.85 248.10,466.01 248.22,470.24 248.35,474.49 248.47,478.72 248.60,482.89 248.72,486.95 248.85,490.87 248.97,494.60 249.10,498.10 249.22,501.35 249.35,504.30 249.47,506.93 249.60,509.21 249.72,511.12 249.85,512.63 249.97,513.74 250.10,514.43 250.22,514.70 250.35,514.69 250.47,514.56 250.60,514.21 250.72,513.50 250.85,512.33 250.97,510.57 251.10,508.14 251.22,504.94 251.35,500.92 251.47,496.03 251.60,490.27 251.72,483.67 251.85,476.29 251.97,468.25 252.10,459.71 252.22,450.87 252.35,441.99 252.47,433.33 252.60,425.22 252.72,417.98 252.85,411.95 252.97,407.45 253.10,404.76 253.22,404.09 253.35,404.70 253.47,406.16 253.60,408.41 253.72,411.39 253.85,415.03 253.97,419.25 254.10,423.97 254.22,429.10 254.35,434.58 254.47,440.31 254.60,446.21 254.72,452.21 254.85,458.24 254.97,464.23 255.10,470.11 255.22,475.84 255.35,481.37 255.47,486.64 255.60,491.64 255.72,496.33 255.85,500.68 255.97,504.69 256.10,508.35 256.23,511.65 256.35,514.59 256.48,517.18 256.60,519.44 256.73,521.37 256.85,523.00 256.98,524.34 257.10,525.43 257.23,526.27 257.35,526.91 257.48,527.37 257.60,527.68 257.73,527.87 257.85,527.97 257.98,528.00 258.10,528.01 258.23,527.71 258.35,526.81 258.48,525.34 258.60,523.30 258.73,520.74 258.85,517.69 258.98,514.19 259.10,510.30 259.23,506.08 259.35,501.59 259.48,496.89 259.60,492.07 259.73,487.19 259.85,482.32 259.98,477.54 260.10,472.92 260.23,468.53 260.35,464.43 260.48,460.69 260.60,457.37 260.73,454.50 260.85,452.15 260.98,450.33 261.10,449.09 261.23,448.43 261.35,448.33 261.48,448.46 261.60,448.74 261.73,449.15 261.85,449.69 261.98,450.36 262.10,451.14 262.23,452.02 262.35,452.98 262.48,454.02 262.60,455.11 262.73,456.24 262.85,457.38 262.98,458.52 263.10,459.65 263.23,460.74 263.35,461.78 263.48,462.74 263.60,463.62 263.73,464.40 263.85,465.07 263.98,465.61 264.10,466.02 264.23,466.30 264.35,466.43 264.48,466.36 264.60,465.90 264.73,465.02 264.85,463.77 264.98,462.17 265.10,460.29 265.23,458.17 265.35,455.90 265.48,453.53 265.60,451.15 265.73,448.82 265.85,446.64 265.98,444.65 266.10,442.93 266.23,441.54 266.35,440.51 266.48,439.88 266.60,439.66 266.73,439.93 266.85,440.74 266.98,442.07 267.10,443.90 267.23,446.21 267.35,448.97 267.48,452.12 267.60,455.62 267.73,459.43 267.85,463.48 267.98,467.71 268.10,472.06 268.23,476.46 268.35,480.85 268.48,485.16 268.60,489.32 268.73,493.28 268.85,496.97 268.98,500.34 269.10,503.34 269.23,505.92 269.35,508.04 269.48,509.68 269.60,510.80 269.73,511.40 269.85,511.49 269.98,511.45 270.10,511.30 270.23,510.95 270.35,510.32 270.48,509.32 270.60,507.90 270.73,505.97 270.85,503.49 270.98,500.40 271.10,496.66 271.23,492.27 271.35,487.23 271.48,481.56 271.60,475.32 271.73,468.59 271.85,461.47 271.98,454.10 272.10,446.63 272.23,439.26 272.35,432.18 272.48,425.61 272.60,419.78 272.73,414.91 272.85,411.22 272.98,408.88 273.10,408.08 273.23,408.54 273.35,409.90 273.48,412.10 273.60,415.07 273.73,418.73 273.85,423.01 273.98,427.80 274.10,433.03 274.23,438.60 274.35,444.42 274.48,450.40 274.60,456.47 274.73,462.55 274.85,468.56 274.98,474.44 275.10,480.13 275.23,485.58 275.35,490.75 275.48,495.61 275.60,500.13 275.73,504.29 275.85,508.09 275.98,511.50 276.10,514.54 276.23,517.21 276.35,519.53 276.48,521.50 276.60,523.15 276.73,524.50 276.85,525.58 276.98,526.41 277.10,527.03 277.23,527.47 277.35,527.75 277.48,527.91 277.60,527.98 277.73,528.01 277.85,527.94 277.98,527.25 278.10,525.78 278.23,523.58 278.35,520.69 278.48,517.14 278.60,513.03 278.73,508.40 278.85,503.36 278.98,497.99 279.10,492.39 279.23,486.67 279.35,480.92 279.48,475.26 279.60,469.79 279.73,464.61 279.85,459.81 279.98,455.47 280.10,451.69 280.23,448.53 280.35,446.05 280.48,444.29 280.60,443.28 280.73,443.04 280.85,443.25 280.98,443.77 281.10,444.59 281.23,445.68 281.35,447.03 281.48,448.60 281.60,450.37 281.73,452.28 281.85,454.32 281.98,456.42 282.10,458.55 282.23,460.67 282.35,462.72 282.48,464.66 282.60,466.46 282.73,468.07 282.85,469.47 282.98,470.61 283.10,471.49 283.23,472.07 283.35,472.35 283.48,472.29 283.60,471.80 283.73,470.88 283.85,469.55 283.98,467.83 284.10,465.76 284.23,463.38 284.35,460.75 284.48,457.92 284.60,454.95 284.73,451.90 284.85,448.84 284.98,445.83 285.10,442.94 285.23,440.22 285.35,437.74 285.48,435.54 285.60,433.67 285.73,432.18 285.85,431.09 285.98,430.43 286.10,430.20 286.23,430.42 286.35,431.06 286.48,432.12 286.60,433.58 286.73,435.45 286.85,437.68 286.98,440.27 287.10,443.19 287.23,446.40 287.35,449.87 287.48,453.58 287.60,457.47 287.73,461.52 287.85,465.67 287.98,469.90 288.10,474.15 288.23,478.39 288.35,482.56 288.48,486.63 288.60,490.56 288.73,494.31 288.85,497.83 288.98,501.10 289.10,504.07 289.23,506.73 289.35,509.04 289.48,510.98 289.60,512.53 289.73,513.67 289.85,514.39 289.98,514.69 290.10,514.69 290.23,514.58 290.35,514.25 290.48,513.58 290.60,512.44 290.73,510.74 290.85,508.36 290.98,505.23 291.10,501.27 291.23,496.45 291.35,490.76 291.48,484.22 291.60,476.90 291.73,468.91 291.85,460.41 291.98,451.59 292.10,442.69 292.23,434.01 292.35,425.84 292.48,418.52 292.60,412.38 292.73,407.74 292.85,404.90 292.98,404.08 293.10,404.62 293.23,406.02 293.35,408.21 293.48,411.13 293.60,414.72 293.73,418.89 293.85,423.57 293.98,428.68 294.10,434.13 294.23,439.84 294.35,445.73 294.48,451.73 294.60,457.76 294.73,463.75 294.85,469.65 294.98,475.39 295.10,480.93 295.23,486.23 295.35,491.25 295.48,495.96 295.60,500.35 295.73,504.39 295.85,508.07 295.98,511.40 296.10,514.37 296.23,516.99 296.35,519.27 296.48,521.23 296.60,522.88 296.73,524.25 296.85,525.35 296.98,526.21 297.10,526.87 297.23,527.34 297.35,527.66 297.48,527.86 297.60,527.96 297.73,528.00 297.85,528.01 297.98,527.75 298.10,526.91 298.23,525.48 298.35,523.49 298.48,520.96 298.60,517.95 298.73,514.48 298.85,510.62 298.98,506.43 299.10,501.95 299.23,497.28 299.35,492.46 299.48,487.58 299.60,482.71 299.73,477.92 299.85,473.28 299.98,468.87 300.10,464.75 300.23,460.98 300.35,457.61 300.48,454.71 300.60,452.32 300.73,450.46 300.85,449.17 300.98,448.46 301.10,448.33 301.23,448.45 301.35,448.71 301.48,449.11 301.60,449.64 301.73,450.30 301.85,451.07 301.98,451.94 302.10,452.90 302.23,453.93 302.35,455.02 302.48,456.14 302.60,457.29 302.73,458.43 302.85,459.56 302.98,460.66 303.10,461.70 303.23,462.67 303.35,463.55 303.48,464.34 303.60,465.02 303.73,465.57 303.85,466.00 303.98,466.28 304.10,466.42 304.23,466.38 304.35,465.95 304.48,465.11 304.60,463.88 304.73,462.31 304.85,460.45 304.98,458.35 305.10,456.08 305.23,453.72 305.35,451.34 305.48,449.01 305.60,446.80 305.73,444.80 305.85,443.06 305.98,441.64 306.10,440.58 306.23,439.91 306.35,439.66 306.48,439.89 306.60,440.66 306.73,441.94 306.85,443.74 306.98,446.01 307.10,448.73 307.23,451.85 307.35,455.33 307.48,459.12 307.60,463.15 307.73,467.37 307.85,471.71 307.98,476.11 308.10,480.50 308.23,484.82 308.35,489.00 308.48,492.97 308.60,496.69 308.73,500.09 308.85,503.12 308.98,505.73 309.10,507.89 309.23,509.57 309.35,510.73 309.48,511.37 309.60,511.49 309.73,511.46 309.85,511.32 309.98,510.99 310.10,510.38 310.23,509.42 310.35,508.03 310.48,506.15 310.60,503.71 310.73,500.67 310.85,496.98 310.98,492.65 311.10,487.66 311.23,482.04 311.35,475.84 311.48,469.15 311.60,462.05 311.73,454.69 311.85,447.23 311.98,439.84 312.10,432.73 312.23,426.11 312.35,420.22 312.48,415.26 312.60,411.46 312.73,409.02 312.85,408.08 312.98,408.47 313.10,409.76 313.23,411.90 313.35,414.81 313.48,418.42 313.60,422.64 313.73,427.40 313.85,432.60 313.98,438.14 314.10,443.94 314.23,449.92 314.35,455.99 314.48,462.06 314.60,468.08 314.73,473.97 314.85,479.68 314.98,485.15 315.10,490.35 315.23,495.24 315.35,499.78 315.48,503.98 315.60,507.80 315.73,511.24 315.85,514.31 315.98,517.01 316.10,519.35 316.23,521.35 316.35,523.03 316.48,524.40 316.60,525.50 316.73,526.36 316.85,526.99 316.98,527.44 317.10,527.73 317.23,527.90 317.35,527.98 317.48,528.01 317.60,527.97 317.73,527.33 317.85,525.93 317.98,523.79 318.10,520.94 318.23,517.45 318.35,513.37 318.48,508.79 318.60,503.78 318.73,498.43 318.85,492.85 318.98,487.13 319.10,481.38 319.23,475.71 319.35,470.22 319.48,465.01 319.60,460.17 319.73,455.80 319.85,451.97 319.98,448.76 320.10,446.22 320.23,444.40 320.35,443.33 320.48,443.03 320.60,443.22 320.73,443.72 320.85,444.52 320.98,445.59 321.10,446.91 321.23,448.47 321.35,450.22 321.48,452.13 321.60,454.15 321.73,456.25 321.85,458.38 321.98,460.50 322.10,462.56 322.23,464.51 322.35,466.32 322.48,467.95 322.60,469.37 322.73,470.53 322.85,471.43 322.98,472.03 323.10,472.34 323.23,472.31 323.35,471.86 323.48,470.97 323.60,469.67 323.73,467.98 323.85,465.93 323.98,463.58 324.10,460.97 324.23,458.15 324.35,455.19 324.48,452.15 324.60,449.08 324.73,446.07 324.85,443.16 324.98,440.43 325.10,437.92 325.23,435.70 325.35,433.81 325.48,432.28 325.60,431.16 325.73,430.46 325.85,430.21 325.98,430.38 326.10,430.99 326.23,432.02 326.35,433.45 326.48,435.28 326.60,437.49 326.73,440.05 326.85,442.94 326.98,446.13 327.10,449.58 327.23,453.27 327.35,457.15 327.48,461.19 327.60,465.34 327.73,469.56 327.85,473.81 327.98,478.05 328.10,482.23 328.23,486.31 328.35,490.25 328.48,494.02 328.60,497.56 328.73,500.85 328.85,503.85 328.98,506.53 329.10,508.87 329.23,510.84 329.35,512.42 329.48,513.59 329.60,514.35 329.73,514.68 329.85,514.69 329.98,514.59 330.10,514.29 330.23,513.64 330.35,512.55 330.48,510.90 330.60,508.58 330.73,505.51 330.85,501.62 330.98,496.87 331.10,491.25 331.23,484.78 331.35,477.52 331.48,469.58 331.60,461.10 331.73,452.30 331.85,443.40 331.98,434.69 332.10,426.47 332.23,419.07 332.35,412.82 332.48,408.05 332.60,405.06 332.73,404.07 332.85,404.55 332.98,405.88 333.10,408.00 333.23,410.87 333.35,414.41 333.48,418.54 333.60,423.18 333.73,428.26 333.85,433.68 333.98,439.37 334.10,445.26 334.23,451.25 334.35,457.27 334.48,463.27 334.60,469.18 334.73,474.94 334.85,480.50 334.98,485.82 335.10,490.86 335.23,495.60 335.35,500.01 335.48,504.08 335.60,507.79 335.73,511.14 335.85,514.14 335.98,516.79 336.10,519.10 336.23,521.08 336.35,522.76 336.48,524.15 336.60,525.27 336.73,526.15 336.85,526.82 336.98,527.31 337.10,527.64 337.23,527.85 337.35,527.96 337.48,528.00 337.60,528.01 337.73,527.80 337.85,527.00 337.98,525.61 338.10,523.66 338.23,521.18 338.35,518.21 338.48,514.78 338.60,510.95 338.73,506.77 338.85,502.32 338.98,497.66 339.10,492.85 339.23,487.97 339.35,483.09 339.48,478.29 339.60,473.64 339.73,469.21 339.85,465.06 339.98,461.26 340.10,457.87 340.23,454.93 340.35,452.49 340.48,450.58 340.60,449.25 340.73,448.49 340.85,448.33 340.98,448.43 341.10,448.68 341.23,449.07 341.35,449.60 341.48,450.24 341.60,451.01 341.73,451.87 341.85,452.82 341.98,453.85 342.10,454.93 342.23,456.05 342.35,457.20 342.48,458.34 342.60,459.47 342.73,460.57 342.85,461.62 342.98,462.59 343.10,463.49 343.23,464.28 343.35,464.97 343.48,465.53 343.60,465.97 343.73,466.26 343.85,466.42 343.98,466.40 344.10,466.00 344.23,465.19 344.35,463.99 344.48,462.45 344.60,460.61 344.73,458.53 344.85,456.27 344.98,453.91 345.10,451.53 345.23,449.19 345.35,446.97 345.48,444.95 345.60,443.19 345.73,441.74 345.85,440.65 345.98,439.95 346.10,439.67 346.23,439.85 346.35,440.58 346.48,441.82 346.60,443.58 346.73,445.81 346.85,448.50 346.98,451.59 347.10,455.04 347.23,458.80 347.35,462.82 347.48,467.02 347.60,471.36 347.73,475.75 347.85,480.15 347.98,484.48 348.10,488.67 348.23,492.66 348.35,496.40 348.48,499.83 348.60,502.89 348.73,505.54 348.85,507.74 348.98,509.45 349.10,510.66 349.23,511.34 349.35,511.49 349.48,511.47 349.60,511.34 349.73,511.02 349.85,510.44 349.98,509.51 350.10,508.16 350.23,506.32 350.35,503.93 350.48,500.93 350.60,497.30 350.73,493.02 350.85,488.08 350.98,482.51 351.10,476.36 351.23,469.70 351.35,462.63 351.48,455.29 351.60,447.83 351.73,440.42 351.85,433.28 351.98,426.62 352.10,420.66 352.23,415.62 352.35,411.72 352.48,409.16 352.60,408.10 352.73,408.41 352.85,409.63 352.98,411.70 353.10,414.55 353.23,418.10 353.35,422.28 353.48,427.00 353.60,432.17 353.73,437.69 353.85,443.47 353.98,449.44 354.10,455.50 354.23,461.58 354.35,467.60 354.48,473.51 354.60,479.23 354.73,484.72 354.85,489.95 354.98,494.86 355.10,499.43 355.23,503.65 355.35,507.50 355.48,510.98 355.60,514.08 355.73,516.81 355.85,519.18 355.98,521.20 356.10,522.91 356.23,524.30 356.35,525.42 356.48,526.30 356.60,526.95 356.73,527.41 356.85,527.71 356.98,527.89 357.10,527.98 357.23,528.00 357.35,527.98 357.48,527.41 357.60,526.07 357.73,523.98 357.85,521.19 357.98,517.75 358.10,513.72 358.23,509.17 358.35,504.19 358.48,498.87 358.60,493.30 358.73,487.59 358.85,481.84 358.98,476.16 359.10,470.65 359.23,465.41 359.35,460.54 359.48,456.13 359.60,452.26 359.73,448.99 359.85,446.40 359.98,444.52 360.10,443.39 360.23,443.03 360.35,443.20 360.48,443.67 360.60,444.44 360.73,445.49 360.85,446.80 360.98,448.34 361.10,450.07 361.23,451.97 361.35,453.99 361.48,456.08 361.60,458.21 361.73,460.33 361.85,462.40 361.98,464.36 362.10,466.19 362.23,467.83 362.35,469.26 362.48,470.45 362.60,471.37 362.73,472.00 362.85,472.32 362.98,472.33 363.10,471.91 363.23,471.06 363.35,469.79 363.48,468.13 363.60,466.11 363.73,463.78 363.85,461.19 363.98,458.38 364.10,455.43 364.23,452.39 364.35,449.33 364.48,446.31 364.60,443.39 364.73,440.64 364.85,438.11 364.98,435.87 365.10,433.95 365.23,432.39 365.35,431.24 365.48,430.50 365.60,430.21 365.73,430.35 365.85,430.93 365.98,431.92 366.10,433.32 366.23,435.12 366.35,437.30 366.48,439.83 366.60,442.70 366.73,445.86 366.85,449.30 366.98,452.97 367.10,456.84 367.23,460.86 367.35,465.00 367.48,469.22 367.60,473.47 367.73,477.71 367.85,481.90 367.98,485.99 368.10,489.95 368.23,493.72 368.35,497.28 368.48,500.59 368.60,503.62 368.73,506.33 368.85,508.69 368.98,510.69 369.10,512.30 369.23,513.51 369.35,514.30 369.48,514.67 369.60,514.69 369.73,514.61 369.85,514.32 369.98,513.71 370.10,512.66 370.23,511.05 370.35,508.79 370.48,505.78 370.60,501.96 370.73,497.28 370.85,491.73 370.98,485.32 371.10,478.12 371.23,470.23 371.35,461.80 371.48,453.01 371.60,444.11 371.73,435.37 371.85,427.10 371.98,419.62 372.10,413.27 372.23,408.37 372.35,405.22 372.48,404.07 372.60,404.48 372.73,405.74 372.85,407.81 372.98,410.62 373.10,414.10 373.23,418.19 373.35,422.79 373.48,427.84 373.60,433.24 373.73,438.91 373.85,444.78 373.98,450.76 374.10,456.79 374.23,462.80 374.35,468.71 374.48,474.48 374.60,480.06 374.73,485.40 374.85,490.47 374.98,495.23 375.10,499.67 375.23,503.76 375.35,507.51 375.48,510.89 375.60,513.92 375.73,516.59 375.85,518.93 375.98,520.94 376.10,522.64 376.23,524.04 376.35,525.19 376.48,526.09 376.60,526.78 376.73,527.28 376.85,527.62 376.98,527.83 377.10,527.95 377.23,528.00 377.35,528.01 377.48,527.83 377.60,527.08 377.73,525.74 377.85,523.84 377.98,521.40 378.10,518.46 378.23,515.07 378.35,511.27 378.48,507.12 378.60,502.69 378.73,498.03 378.85,493.24 378.98,488.36 379.10,483.48 379.23,478.67 379.35,474.01 379.48,469.56 379.60,465.38 379.73,461.55 379.85,458.12 379.98,455.15 380.10,452.66 380.23,450.72 380.35,449.33 380.48,448.53 380.60,448.32 380.73,448.42 380.85,448.66 380.98,449.04 381.10,449.55 381.23,450.19 381.35,450.94 381.48,451.80 381.60,452.75 381.73,453.77 381.85,454.84 381.98,455.96 382.10,457.10 382.23,458.25 382.35,459.38 382.48,460.48 382.60,461.53 382.73,462.52 382.85,463.42 382.98,464.22 383.10,464.92 383.23,465.49 383.35,465.94 383.48,466.24 383.60,466.41 383.73,466.41 383.85,466.05 383.98,465.27 384.10,464.10 384.23,462.59 384.35,460.76 384.48,458.70 384.60,456.45 384.73,454.10 384.85,451.72 384.98,449.37 385.10,447.14 385.23,445.10 385.35,443.32 385.48,441.84 385.60,440.72 385.73,439.99 385.85,439.68 385.98,439.82 386.10,440.50 386.23,441.70 386.35,443.42 386.48,445.62 386.60,448.27 386.73,451.33 386.85,454.75 386.98,458.49 387.10,462.49 387.23,466.68 387.35,471.01 387.48,475.40 387.60,479.80 387.73,484.13 387.85,488.34 387.98,492.35 388.10,496.11 388.23,499.57 388.35,502.66 388.48,505.34 388.60,507.58 388.73,509.33 388.85,510.58 388.98,511.30 389.10,511.49 389.23,511.47 389.35,511.35 389.48,511.06 389.60,510.50 389.73,509.60 389.85,508.28 389.98,506.49 390.10,504.14 390.23,501.20 390.35,497.62 390.48,493.39 390.60,488.50 390.73,482.98 390.85,476.87 390.98,470.25 391.10,463.21 391.23,455.88 391.35,448.42 391.48,441.01 391.60,433.84 391.73,427.13 391.85,421.10 391.98,415.98 392.10,411.98 392.23,409.31 392.35,408.12 392.48,408.35 392.60,409.50 392.73,411.50 392.85,414.29 392.98,417.79 393.10,421.93 393.23,426.61 393.35,431.74 393.48,437.23 393.60,443.00 393.73,448.96 393.85,455.01 393.98,461.09 394.10,467.13 394.23,473.04 394.35,478.78 394.48,484.29 394.60,489.54 394.73,494.48 394.85,499.08 394.98,503.33 395.10,507.21 395.23,510.72 395.35,513.85 395.48,516.60 395.60,519.00 395.73,521.05 395.85,522.78 395.98,524.20 396.10,525.34 396.23,526.23 396.35,526.90 396.48,527.38 396.60,527.69 396.73,527.88 396.85,527.97 396.98,528.00 397.10,528.00 397.23,527.48 397.35,526.20 397.48,524.18 397.60,521.44 397.73,518.05 397.85,514.06 397.98,509.55 398.10,504.60 398.23,499.30 398.35,493.75 398.48,488.05 398.60,482.30 398.73,476.61 398.85,471.08 398.98,465.82 399.10,460.92 399.23,456.47 399.35,452.55 399.48,449.23 399.60,446.58 399.73,444.64 399.85,443.45 399.98,443.03 400.10,443.17 400.23,443.62 400.35,444.37 400.48,445.40 400.60,446.69 400.73,448.21 400.85,449.93 400.98,451.81 401.10,453.82 401.23,455.91 401.35,458.04 401.48,460.16 401.60,462.23 401.73,464.21 401.85,466.05 401.98,467.71 402.10,469.16 402.23,470.36 402.35,471.30 402.48,471.96 402.60,472.31 402.73,472.34 402.85,471.96 402.98,471.14 403.10,469.90 403.23,468.27 403.35,466.28 403.48,463.98 403.60,461.40 403.73,458.61 403.85,455.67 403.98,452.64 404.10,449.57 404.23,446.54 404.35,443.62 404.48,440.85 404.60,438.31 404.73,436.04 404.85,434.09 404.98,432.50 405.10,431.31 405.23,430.55 405.35,430.22 405.48,430.33 405.60,430.87 405.73,431.82 405.85,433.20 405.98,434.96 406.10,437.11 406.23,439.62 406.35,442.46 406.48,445.60 406.60,449.02 406.73,452.67 406.85,456.52 406.98,460.53 407.10,464.67 407.23,468.88 407.35,473.13 407.48,477.37 407.60,481.57 407.73,485.67 407.85,489.64 407.98,493.43 408.10,497.01 408.23,500.34 408.35,503.39 408.48,506.12 408.60,508.52 408.73,510.55 408.85,512.19 408.98,513.43 409.10,514.26 409.23,514.66 409.35,514.70 409.48,514.62 409.60,514.35 409.73,513.77 409.85,512.76 409.98,511.20 410.10,509.00 410.23,506.05 410.35,502.30 410.48,497.69 410.60,492.21 410.73,485.87 410.85,478.73 410.98,470.89 411.10,462.49 411.23,453.72 411.35,444.82 411.48,436.06 411.60,427.74 411.73,420.18 411.85,413.73 411.98,408.70 412.10,405.41 412.23,404.09 412.35,404.41 412.48,405.61 412.60,407.61 412.73,410.37 412.85,413.80 412.98,417.84 413.10,422.41 413.23,427.42 413.35,432.79 413.48,438.45 413.60,444.31 413.73,450.28 413.85,456.31 413.98,462.32 414.10,468.24 414.23,474.03 414.35,479.62 414.48,484.98 414.60,490.07 414.73,494.86 414.85,499.33 414.98,503.45 415.10,507.22 415.23,510.63 415.35,513.69 415.48,516.39 415.60,518.75 415.73,520.79 415.85,522.51 415.98,523.94 416.10,525.11 416.23,526.03 416.35,526.73 416.48,527.24 416.60,527.60 416.73,527.82 416.85,527.94 416.98,528.00 417.10,528.01 417.23,527.87 417.35,527.16 417.48,525.87 417.60,524.01 417.73,521.61 417.85,518.71 417.98,515.35 418.10,511.58 418.23,507.46 418.35,503.05 418.48,498.41 418.60,493.62 418.73,488.75 418.85,483.87 418.98,479.05 419.10,474.37 419.23,469.90 419.35,465.70 419.48,461.84 419.60,458.38 419.73,455.37 419.85,452.84 419.98,450.85 420.10,449.42 420.23,448.57 420.35,448.32 420.48,448.41 420.60,448.63 420.73,449.00 420.85,449.50 420.98,450.13 421.10,450.88 421.23,451.73 421.35,452.67 421.48,453.68 421.60,454.76 421.73,455.87 421.85,457.01 421.98,458.16 422.10,459.29 422.23,460.40 422.35,461.45 422.48,462.44 422.60,463.35 422.73,464.16 422.85,464.87 422.98,465.45 423.10,465.91 423.23,466.22 423.35,466.40 423.48,466.42 423.60,466.09 423.73,465.35 423.85,464.21 423.98,462.72 424.10,460.92 424.23,458.87 424.35,456.64 424.48,454.29 424.60,451.91 424.73,449.56 424.85,447.32 424.98,445.26 425.10,443.45 425.23,441.95 425.35,440.79 425.48,440.03 425.60,439.69 425.73,439.79 425.85,440.42 425.98,441.59 426.10,443.26 426.23,445.43 426.35,448.04 426.48,451.07 426.60,454.47 426.73,458.18 426.85,462.16 426.98,466.34 427.10,470.66 427.23,475.05 427.35,479.45 427.48,483.79 427.60,488.01 427.73,492.04 427.85,495.82 427.98,499.30 428.10,502.42 428.23,505.14 428.35,507.42 428.48,509.21 428.60,510.50 428.73,511.26 428.85,511.49 428.98,511.48 429.10,511.37 429.23,511.09 429.35,510.55 429.48,509.69 429.60,508.41 429.73,506.65 429.85,504.35 429.98,501.45 430.10,497.93 430.23,493.75 430.35,488.91 430.48,483.44 430.60,477.38 430.73,470.79 430.85,463.78 430.98,456.48 431.10,449.02 431.23,441.60 431.35,434.40 431.48,427.64 431.60,421.55 431.73,416.35 431.85,412.26 431.98,409.47 432.10,408.16 432.23,408.29 432.35,409.37 432.48,411.31 432.60,414.04 432.73,417.49 432.85,421.58 432.98,426.21 433.10,431.31 433.23,436.78 433.35,442.53 433.48,448.48 433.60,454.53 433.73,460.61 433.85,466.65 433.98,472.57 434.10,478.33 434.23,483.86 434.35,489.13 434.48,494.09 434.60,498.73 434.73,503.00 434.85,506.91 434.98,510.45 435.10,513.61 435.23,516.40 435.35,518.82 435.48,520.90 435.60,522.65 435.73,524.10 435.85,525.26 435.98,526.17 436.10,526.86 436.23,527.35 436.35,527.67 436.48,527.87 436.60,527.97 436.73,528.00 436.85,528.00 436.98,527.55 437.10,526.33 437.23,524.36 437.35,521.69 437.48,518.34 437.60,514.40 437.73,509.93 437.85,505.01 437.98,499.74 438.10,494.20 438.23,488.51 438.35,482.76 438.48,477.06 438.60,471.52 438.73,466.23 438.85,461.30 438.98,456.80 439.10,452.84 439.23,449.47 439.35,446.77 439.48,444.77 439.60,443.52 439.73,443.04 439.85,443.15 439.98,443.58 440.10,444.30 440.23,445.30 440.35,446.57 440.48,448.08 440.60,449.78 440.73,451.66 440.85,453.66 440.98,455.74 441.10,457.87 441.23,460.00 441.35,462.07 441.48,464.06 441.60,465.90 441.73,467.58 441.85,469.05 441.98,470.28 442.10,471.24 442.23,471.91 442.35,472.29 442.48,472.35 442.60,472.01 442.73,471.22 442.85,470.02 442.98,468.42 443.10,466.45 443.23,464.17 443.35,461.62 443.48,458.84 443.60,455.91 443.73,452.88 443.85,449.82 443.98,446.78 444.10,443.85 444.23,441.07 444.35,438.50 444.48,436.21 444.60,434.23 444.73,432.61 444.85,431.39 444.98,430.59 445.10,430.23 445.23,430.30 445.35,430.81 445.48,431.73 445.60,433.07 445.73,434.81 445.85,436.93 445.98,439.41 446.10,442.22 446.23,445.34 446.35,448.73 446.48,452.37 446.60,456.21 446.73,460.21 446.85,464.33 446.98,468.54 447.10,472.79 447.23,477.04 447.35,481.24 447.48,485.34 447.60,489.32 447.73,493.13 447.85,496.73 447.98,500.08 448.10,503.16 448.23,505.92 448.35,508.34 448.48,510.40 448.60,512.07 448.73,513.35 448.85,514.21 448.98,514.64 449.10,514.70 449.23,514.63 449.35,514.39 449.48,513.84 449.60,512.86 449.73,511.35 449.85,509.20 449.98,506.32 450.10,502.63 450.23,498.09 450.35,492.68 450.48,486.40 450.60,479.33 450.73,471.54 450.85,463.18 450.98,454.43 451.10,445.53 451.23,436.75 451.35,428.38 451.48,420.75 451.60,414.20 451.73,409.05 451.85,405.60 451.98,404.11 452.10,404.35 452.23,405.48 452.35,407.42 452.48,410.12 452.60,413.50 452.73,417.50 452.85,422.02 452.98,427.00 453.10,432.35 453.23,437.99 453.35,443.83 453.48,449.80 453.60,455.83 453.73,461.84 453.85,467.77 453.98,473.57 454.10,479.18 454.23,484.56 454.35,489.68 454.48,494.49 454.60,498.98 454.73,503.13 454.85,506.93 454.98,510.37 455.10,513.46 455.23,516.19 455.35,518.58 455.48,520.64 455.60,522.38 455.73,523.84 455.85,525.02 455.98,525.96 456.10,526.68 456.23,527.21 456.35,527.58 456.48,527.81 456.60,527.94 456.73,527.99 456.85,528.01 456.98,527.90 457.10,527.24 457.23,526.00 457.35,524.18 457.48,521.83 457.60,518.96 457.73,515.64 457.85,511.90 457.98,507.80 458.10,503.41 458.23,498.79 458.35,494.01 458.48,489.14 458.60,484.26 458.73,479.43 458.85,474.74 458.98,470.25 459.10,466.03 459.23,462.14 459.35,458.64 459.48,455.59 459.60,453.03 459.73,450.99 459.85,449.52 459.98,448.62 460.10,448.32 460.23,448.39 460.35,448.61 460.48,448.97 460.60,449.46 460.73,450.08 460.85,450.81 460.98,451.66 461.10,452.59 461.23,453.60 461.35,454.67 461.48,455.78 461.60,456.92 461.73,458.07 461.85,459.20 461.98,460.31 462.10,461.37 462.23,462.37 462.35,463.28 462.48,464.10 462.60,464.82 462.73,465.41 462.85,465.88 462.98,466.20 463.10,466.39 463.23,466.43 463.35,466.13 463.48,465.42 463.60,464.31 463.73,462.85 463.85,461.07 463.98,459.04 464.10,456.82 464.23,454.48 464.35,452.10 464.48,449.74 464.60,447.49 464.73,445.42 464.85,443.58 464.98,442.05 465.10,440.87 465.23,440.08 465.35,439.70 465.48,439.76 465.60,440.35 465.73,441.48 465.85,443.11 465.98,445.24 466.10,447.82 466.23,450.81 466.35,454.18 466.48,457.88 466.60,461.83 466.73,466.00 466.85,470.31 466.98,474.70 467.10,479.10 467.23,483.45 467.35,487.68 467.48,491.73 467.60,495.53 467.73,499.04 467.85,502.19 467.98,504.94 468.10,507.25 468.23,509.09 468.35,510.42 468.48,511.22 468.60,511.49 468.73,511.48 468.85,511.38 468.98,511.12 469.10,510.61 469.23,509.77 469.35,508.53 469.48,506.81 469.60,504.55 469.73,501.71 469.85,498.23 469.98,494.11 470.10,489.32 470.23,483.90 470.35,477.88 470.48,471.34 470.60,464.36 470.73,457.07 470.85,449.62 470.98,442.19 471.10,434.96 471.23,428.16 471.35,422.01 471.48,416.73 471.60,412.54 471.73,409.64 471.85,408.21 471.98,408.25 472.10,409.25 472.23,411.12 472.35,413.79 472.48,417.19 472.60,421.23 472.73,425.83 472.85,430.89 472.98,436.33 473.10,442.06 473.23,448.00 473.35,454.04 473.48,460.12 473.60,466.17 473.73,472.10 473.85,477.88 473.98,483.43 474.10,488.72 474.23,493.71 474.35,498.37 474.48,502.67 474.60,506.61 474.73,510.18 474.85,513.37 474.98,516.19 475.10,518.64 475.23,520.75 475.35,522.53 475.48,523.99 475.60,525.18 475.73,526.11 475.85,526.81 475.98,527.31 476.10,527.65 476.23,527.86 476.35,527.96 476.48,528.00 476.60,528.01 476.73,527.62 476.85,526.46 476.98,524.55 477.10,521.93 477.23,518.63 477.35,514.74 477.48,510.31 477.60,505.42 477.73,500.17 477.85,494.65 477.98,488.97 478.10,483.22 478.23,477.51 478.35,471.95 478.48,466.64 478.60,461.67 478.73,457.15 478.85,453.14 478.98,449.72 479.10,446.96 479.23,444.90 479.35,443.59 479.48,443.05 479.60,443.13 479.73,443.53 479.85,444.23 479.98,445.21 480.10,446.46 480.23,447.95 480.35,449.64 480.48,451.50 480.60,453.49 480.73,455.57 480.85,457.70 480.98,459.83 481.10,461.91 481.23,463.90 481.35,465.76 481.48,467.45 481.60,468.94 481.73,470.19 481.85,471.17 481.98,471.87 482.10,472.27 482.23,472.36 482.35,472.05 482.48,471.30 482.60,470.13 482.73,468.56 482.85,466.62 482.98,464.36 483.10,461.83 483.23,459.07 483.35,456.15 483.48,453.13 483.60,450.06 483.73,447.02 483.85,444.08 483.98,441.28 484.10,438.70 484.23,436.38 484.35,434.38 484.48,432.73 484.60,431.48 484.73,430.64 484.85,430.24 484.98,430.28 485.10,430.75 485.23,431.64 485.35,432.95 485.48,434.66 485.60,436.74 485.73,439.19 485.85,441.98 485.98,445.08 486.10,448.45 486.23,452.07 486.35,455.89 486.48,459.88 486.60,464.00 486.73,468.20 486.85,472.45 486.98,476.70 487.10,480.90 487.23,485.02 487.35,489.01 487.48,492.83 487.60,496.45 487.73,499.82 487.85,502.92 487.98,505.71 488.10,508.16 488.23,510.25 488.35,511.95 488.48,513.26 488.60,514.15 488.73,514.62 488.85,514.70 488.98,514.64 489.10,514.42 489.23,513.89 489.35,512.96 489.48,511.49 489.60,509.40 489.73,506.58 489.85,502.96 489.98,498.49 490.10,493.14 490.23,486.94 490.35,479.92 490.48,472.18 490.60,463.86 490.73,455.14 490.85,446.24 490.98,437.44 491.10,429.02 491.23,421.32 491.35,414.67 491.48,409.40 491.60,405.81 491.73,404.15 491.85,404.30 491.98,405.36 492.10,407.24 492.23,409.88 492.35,413.21 492.48,417.16 492.60,421.64 492.73,426.59 492.85,431.91 492.98,437.53 493.10,443.36 493.23,449.32 493.35,455.35 493.48,461.36 493.60,467.30 493.73,473.11 493.85,478.74 493.98,484.14 494.10,489.28 494.23,494.12 494.35,498.63 494.48,502.81 494.60,506.64 494.73,510.11 494.85,513.22 494.98,515.98 495.10,518.40 495.23,520.48 495.35,522.25 495.48,523.73 495.60,524.94 495.73,525.89 495.85,526.63 495.98,527.17 496.10,527.55 496.23,527.79 496.35,527.93 496.48,527.99 496.60,528.01 496.73,527.93 496.85,527.32 496.98,526.12 497.10,524.35 497.23,522.03 497.35,519.21 497.48,515.92 497.60,512.21 497.73,508.14 497.85,503.77 497.98,499.17 498.10,494.40 498.23,489.53 498.35,484.65 498.48,479.82 498.60,475.11 498.73,470.60 498.85,466.35 498.98,462.44 499.10,458.91 499.23,455.82 499.35,453.21 499.48,451.13 499.60,449.61 499.73,448.67 499.85,448.32 499.98,448.38 500.10,448.59 500.23,448.93 500.35,449.42 500.48,450.02 500.60,450.75 500.73,451.58 500.85,452.51 500.98,453.51 501.10,454.58 501.23,455.69 501.35,456.83 501.48,457.98 501.60,459.11 501.73,460.22 501.85,461.29 501.98,462.29 502.10,463.21 502.23,464.04 502.35,464.76 502.48,465.37 502.60,465.84 502.73,466.18 502.85,466.38 502.98,466.44 503.10,466.17 503.23,465.49 503.35,464.42 503.48,462.98 503.60,461.23 503.73,459.21 503.85,457.01 503.98,454.67 504.10,452.29 504.23,449.93 504.35,447.66 504.48,445.57 504.60,443.72 504.73,442.16 504.85,440.95 504.98,440.13 505.10,439.71 505.23,439.74 505.35,440.29 505.48,441.37 505.60,442.96 505.73,445.05 505.85,447.59 505.98,450.56 506.10,453.90 506.23,457.57 506.35,461.51 506.48,465.66 506.60,469.96 506.73,474.34 506.85,478.75 506.98,483.10 507.10,487.34 507.23,491.41 507.35,495.24 507.48,498.77 507.60,501.95 507.73,504.74 507.85,507.08 507.98,508.96 508.10,510.33 508.23,511.18 508.35,511.49 508.48,511.48 508.60,511.39 508.73,511.15 508.85,510.66 508.98,509.85 509.10,508.64 509.23,506.96 509.35,504.75 509.48,501.96 509.60,498.54 509.73,494.46 509.85,489.73 509.98,484.36 510.10,478.39 510.23,471.88 510.35,464.93 510.48,457.66 510.60,450.22 510.73,442.77 510.85,435.53 510.98,428.69 511.10,422.47 511.23,417.12 511.35,412.83 511.48,409.82 511.60,408.27 511.73,408.20 511.85,409.14 511.98,410.94 512.10,413.55 512.23,416.89 512.35,420.88 512.48,425.44 512.60,430.47 512.73,435.89 512.85,441.60 512.98,447.52 513.10,453.56 513.23,459.64 513.35,465.69 513.48,471.63 513.60,477.42 513.73,482.99 513.85,488.31 513.98,493.32 514.10,498.01 514.23,502.34 514.35,506.31 514.48,509.91 514.60,513.13 514.73,515.98 514.85,518.46 514.98,520.59 515.10,522.40 515.23,523.89 515.35,525.09 515.48,526.04 515.60,526.76 515.73,527.28 515.85,527.63 515.98,527.84 516.10,527.96 516.23,528.00 516.35,528.01 516.48,527.68 516.60,526.58 516.73,524.73 516.85,522.16 516.98,518.92 517.10,515.07 517.23,510.68 517.35,505.83 517.48,500.60 517.60,495.10 517.73,489.43 517.85,483.68 517.98,477.96 518.10,472.39 518.23,467.05 518.35,462.06 518.48,457.49 518.60,453.44 518.73,449.97 518.85,447.15 518.98,445.04 519.10,443.67 519.23,443.06 519.35,443.11 519.48,443.49 519.60,444.16 519.73,445.13 519.85,446.35 519.98,447.82 520.10,449.50 520.23,451.35 520.35,453.33 520.48,455.41 520.60,457.53 520.73,459.66 520.85,461.74 520.98,463.75 521.10,465.62 521.23,467.33 521.35,468.83 521.48,470.10 521.60,471.10 521.73,471.83 521.85,472.25 521.98,472.37 522.10,472.09 522.23,471.38 522.35,470.24 522.48,468.70 522.60,466.79 522.73,464.56 522.85,462.04 522.98,459.30 523.10,456.39 523.23,453.37 523.35,450.31 523.48,447.26 523.60,444.31 523.73,441.50 523.85,438.89 523.98,436.55 524.10,434.52 524.23,432.85 524.35,431.56 524.48,430.69 524.60,430.26 524.73,430.26 524.85,430.70 524.98,431.56 525.10,432.83 525.23,434.50 525.35,436.56 525.48,438.99 525.60,441.75 525.73,444.82 525.85,448.17 525.98,451.77 526.10,455.58 526.23,459.56 526.35,463.67 526.48,467.87 526.60,472.11 526.73,476.36 526.85,480.57 526.98,484.70 527.10,488.70 527.23,492.54 527.35,496.17 527.48,499.56 527.60,502.68 527.73,505.50 527.85,507.98 527.98,510.09 528.10,511.83 528.23,513.17 528.35,514.10 528.48,514.60 528.60,514.70 528.73,514.65 528.85,514.44 528.98,513.95 529.10,513.05 529.23,511.63 529.35,509.59 529.48,506.83 529.60,503.28 529.73,498.87 529.85,493.60 529.98,487.46 530.10,480.51 530.23,472.82 530.35,464.54 530.48,455.85 530.60,446.95 530.73,438.13 530.85,429.67 530.98,421.91 531.10,415.16 531.23,409.76 531.35,406.03 531.48,404.21 531.60,404.25 531.73,405.24 531.85,407.06 531.98,409.64 532.10,412.92 532.23,416.82 532.35,421.27 532.48,426.18 532.60,431.47" fill="none" stroke="#000" stroke-width="1.45" stroke-linejoin="round"/>
<g font-size="13" fill="#202020"><text x="47.2" y="558.10" text-anchor="end">-0.5</text><text x="47.2" y="477.93" text-anchor="end">0</text><text x="47.2" y="397.77" text-anchor="end">0.5</text><text x="47.2" y="317.60" text-anchor="end">1</text><text x="51.60" y="570.50" text-anchor="middle">0.5</text><text x="131.77" y="570.50" text-anchor="middle">0.505</text><text x="211.93" y="570.50" text-anchor="middle">0.51</text><text x="292.10" y="570.50" text-anchor="middle">0.515</text><text x="372.27" y="570.50" text-anchor="middle">0.52</text><text x="452.43" y="570.50" text-anchor="middle">0.525</text><text x="532.60" y="570.50" text-anchor="middle">0.53</text></g>
<text class="m" x="275.8" y="587.70" font-size="13.3" font-style="italic" fill="#161616">t<tspan dx="0.5"> (</tspan><tspan font-family="Liberation Serif" font-size="16.5" dx="0.3">μ</tspan><tspan dx="0.1">s</tspan><tspan dx="0.6">)</tspan></text>
<text class="m" transform="translate(21,433.50) rotate(-90)" text-anchor="middle" font-size="14.3" font-style="italic" fill="#161616">Normalized laser intensity E<tspan font-size="10.5" dx="0.6" dy="-7.8">2</tspan><tspan dy="7.8">(t)</tspan></text>
<g class="b" font-size="14" font-style="italic" word-spacing="1.8" fill="#161616"><text x="64" y="336.00">α = 2.0</text><text x="142.0" y="336.00">L = 5.2cm</text><text x="64" y="355.60">J = 1.2J<tspan font-size="11.5" dx="1" dy="7.6">th</tspan></text><text x="141.9" y="356.30">κ = 0.042</text></g>
<text class="b" x="497.5" y="332.00" font-size="15.5" fill="#161616">(b)</text>
<text class="b" x="296.5" y="88.2" font-size="15" fill="#161616">Period-3</text>
<text class="b" x="284.5" y="393.6" font-size="15" fill="#161616">Period-6</text>
<line x1="321.00" y1="97.60" x2="329.60" y2="97.60" stroke="#bdbdbd" stroke-width="1.6"/><path d="M316.60,97.60 L322.00,95.25 L321.00,97.60 L322.00,99.95 Z" fill="#111"/><path d="M334.00,97.60 L328.60,95.25 L329.60,97.60 L328.60,99.95 Z" fill="#111"/>
<line x1="297.90" y1="400.90" x2="327.40" y2="400.90" stroke="#bdbdbd" stroke-width="1.6"/><path d="M293.50,400.90 L298.90,398.55 L297.90,400.90 L298.90,403.25 Z" fill="#111"/><path d="M331.80,400.90 L326.40,398.55 L327.40,400.90 L326.40,403.25 Z" fill="#111"/></svg>
</body></html>
